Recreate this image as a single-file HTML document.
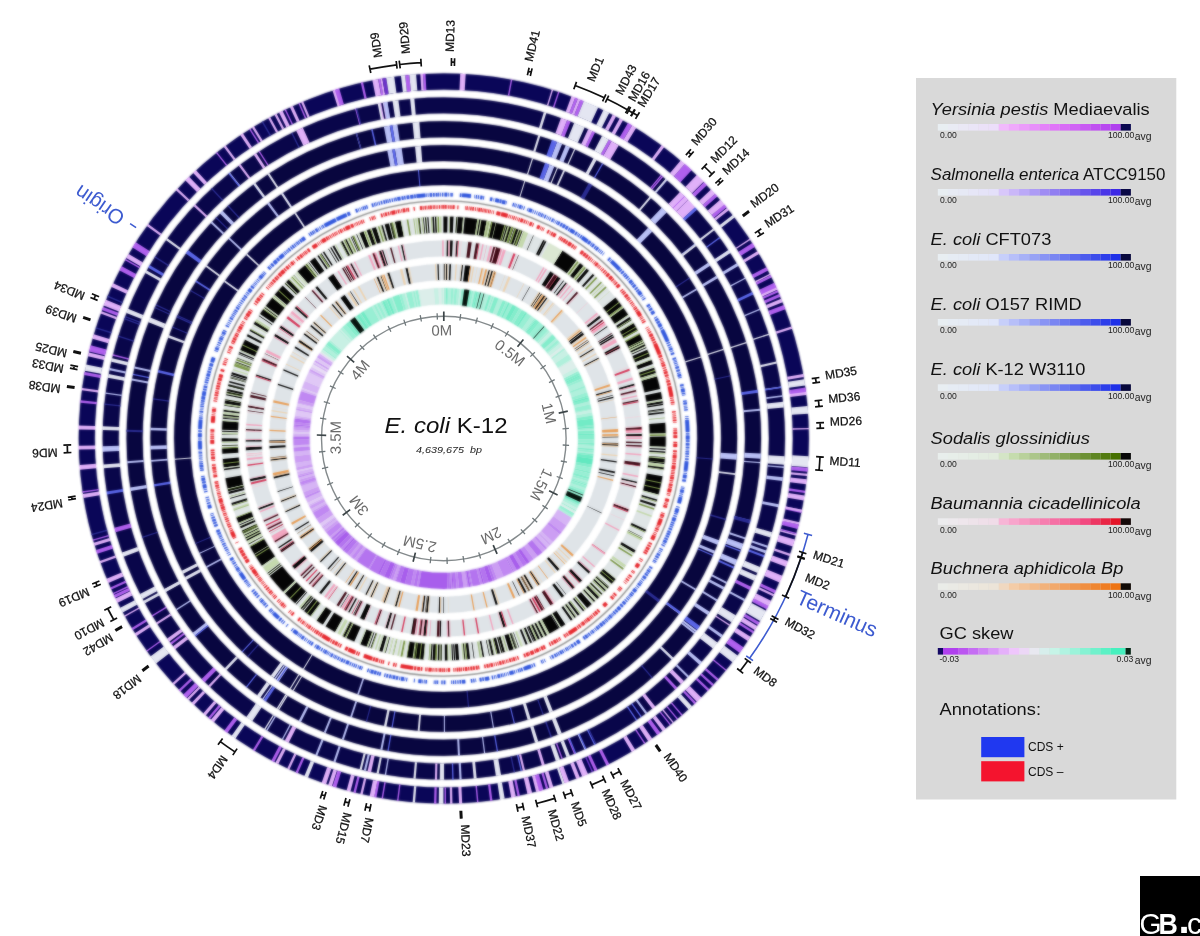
<!DOCTYPE html>
<html><head><meta charset="utf-8"><title>E. coli K-12</title>
<style>html,body{margin:0;padding:0;background:#fff}body{width:1200px;height:936px;overflow:hidden;position:relative}</style></head>
<body>
<svg width="1200" height="936" viewBox="0 0 1200 936" style="position:absolute;left:0;top:0">
<defs><filter id="sb" x="-5%" y="-5%" width="110%" height="110%" color-interpolation-filters="sRGB"><feGaussianBlur stdDeviation="0.8"/></filter></defs>
<g filter="url(#sb)"><g id="rings" transform="translate(443.8 438.5) rotate(-90)" fill="none">
<circle pathLength="4639.68" r="357.05" stroke="#0a0658" stroke-width="15.9"/>
<circle pathLength="4639.68" r="357.05" stroke="#b060ee" stroke-width="16.3" stroke-dasharray="0 136.4 3 95.8 3 33.6 5.6 5.6 7.4 99.9 9.5 132.3 18.5 34.9 8.4 24 7.2 21.5 7.2 89.1 9.6 46.7 8 10.5 4.8 12 12.8 3.5 4.8 3.7 6.4 17.6 9.6 163.5 12.8 150.2 8 38.7 4.8 34.3 6.4 24.1 9.6 7.9 3 93 4.8 22.6 6.4 28.3 8 30 6.4 14.6 4.8 34.4 13.7 43 3 21.5 4.8 9.8 4.8 8.6 4.8 33.2 4.8 31.9 3 9.2 3 15.4 3 24 8 29.1 3 81.6 6.4 19.9 6.4 100.2 4.8 5.4 9.6 39.3 4.8 51.4 4.8 23.9 3 62.6 3 16.8 4.8 72.2 3 28.5 3 10.3 4.8 38.4 4.8 35.8 8 75.1 4.8 48 6.4 38.5 4.8 61.7 8 36.9 4.8 59 9.6 8.7 4.8 99.9 3 49.2 4.8 69.7 6.4 1.3 3 7.7 4.8 72.8 8 19.7 3 96.4 3 180 4.8 51.5 6.4 42.7 12.8 74.8 6.7 80.7 9.6 13.7 3 26.9 12.8 243.4 3 79.6 3 78.6 3 27.8 3 72.2 12.8 44.8 4.8 31.6 4.4 50.3 8.6 27.5 5.2 38.3"/>
<circle pathLength="4639.68" r="357.05" stroke="#e0b0f9" stroke-width="16.3" stroke-dasharray="0 33.5 11.1 177.1 3 39.2 7.9 5.6 5.6 71.9 7.7 8.5 7.7 21.1 9.7 62.2 6.4 42.9 11.1 32.8 19.4 21.7 11.9 15.7 13.1 8.5 5.8 71.4 3 26.9 6.4 45.5 3 27.9 4.8 19.6 8 51.9 4.8 94.3 6.4 30.1 6.4 66.7 3 90.3 4.8 6.3 10.3 22.8 10.5 18.6 4.8 21.6 4.8 20.1 3 7.7 14.7 15.6 4.8 10.7 12.5 19.2 14.8 26.2 4.8 10 11.6 46.3 9.6 16.3 10.1 147.9 12.8 62 3 18 8 25.8 9.6 31.6 8 99.4 12.8 5 8 15.3 9.6 24 8 21.8 6.4 8.3 9.6 24.2 9.6 99.6 6.4 13.4 4.8 154.5 9.6 14.6 4.8 20.5 8 31 8 4.4 9.6 70.4 4.8 20 6.4 149 8 13.7 6.4 25.5 6.4 7.9 4.8 38 4.8 120 6.4 38.7 3 29.1 9.6 34.4 9.6 33.2 4.8 32.8 6.4 92.7 8 49.7 9.6 31 8 33.3 8 71.6 4.8 64.9 8 28.3 9.6 44.1 5.1 12.2 12.8 28.2 8 57.5 9.6 67.4 4.8 88.5 4.8 22.8 10.4 11.4 8 73.1 4.8 36.4 6.4 21.6 4.8 33 4.8 9.8 4.8 5.2 8 16.6 6.4 18.3 4.8 63 4.8 78.4 12.1 4.4 4.1 77.2 5.2 43.4"/>
<circle pathLength="4639.68" r="357.05" stroke="#6a30c8" stroke-width="16.3" stroke-dasharray="0 2008.6 3 2503.3 7.5 118.2"/>
<circle pathLength="4639.68" r="357.05" stroke="#e4e6f2" stroke-width="16.3" stroke-dasharray="0 290.4 32.1 11.6 13.1 326.5 6.4 359.1 12.8 42.1 15.5 86.3 22.3 304.2 24 83.2 17.4 120.8 9.6 293.4 4.8 120.4 9.6 115 9.6 48 4.8 218.1 8 158.9 9.6 211.9 18.3 105.1 10.9 493.9 12.8 892 16.4 13.7 8.6 8.6 13.7 57.2"/>
<circle pathLength="4639.68" r="357.05" stroke="#2a2c92" stroke-width="16.3" stroke-dasharray="0 3281.5 3 421.3 3 65.1 3 477.2 3 383.6"/>
<circle pathLength="4639.68" r="333.15" stroke="#09064a" stroke-width="15.9"/>
<circle pathLength="4639.68" r="333.15" stroke="#b060ee" stroke-width="16.3" stroke-dasharray="0 272.9 8.2 51.4 6.6 33.2 6.7 129.3 3 1 3 56.6 16.6 903.6 7.5 264.2 6.4 257.5 3 26 3 833 9.6 99.1 4.8 68.5 3 196.8 9.6 376.9 3 552 3 226.4 3 192.1"/>
<circle pathLength="4639.68" r="333.15" stroke="#e0b0f9" stroke-width="16.3" stroke-dasharray="0 258.9 14.1 49.7 10 46.5 18.2 166.8 12.8 1.8 9.2 0.8 22.2 974.8 3 154.9 9.2 73.6 8 263.6 6.4 37.8 4.8 187.5 4.8 139.1 8 181.5 9.6 199.5 4.8 106.4 8 13.1 8 37.2 4.8 973.3 4.9 126.1 4.8 35.4 6.4 98.9 16 171.9 6.2 3.5 9.6 124.5"/>
<circle pathLength="4639.68" r="333.15" stroke="#b9c0f6" stroke-width="16.3" stroke-dasharray="0 522.2 4.8 200.9 8 26 6.5 29 3 71.4 3 171.7 3 16.2 3.7 151.4 3 20.4 8 51.1 6.4 86.3 4.8 6.1 6.4 108.4 4.8 86.8 6.5 67 8 33.2 4.8 115.6 4.8 150 3 274.7 4.8 159.7 3 41.5 4.8 63.8 4.8 36.7 4.8 77.2 3 35.9 3 385.2 3 338.9 11.8 114.1 3 48.7 4.8 503.1 3 368.5 9.1 123.6"/>
<circle pathLength="4639.68" r="333.15" stroke="#e4e6f2" stroke-width="16.3" stroke-dasharray="0 219.7 5.8 63.9 24.9 41.5 16.6 150 3 145.4 4.8 53.1 6.4 194.1 3 59.3 4.8 83.8 12.9 105.4 18.4 148.5 12.1 67.5 14.2 5.9 12.5 84.8 17.7 53.1 16.1 391.2 8 14.7 9.6 122.6 11.2 42.1 6.4 64.2 9.6 52.1 4.8 75.9 4.8 33 4.8 221.8 3 30.5 16 331.9 6.4 4.5 12.1 88.2 9.6 186.9 8 75.2 8 105.7 8 27.5 8 102.4 9.7 86 6.4 77.8 4.8 553 4.8 27.7 12.8 25.7 9.2 64.9"/>
<circle pathLength="4639.68" r="333.15" stroke="#5a66e8" stroke-width="16.3" stroke-dasharray="0 610.8 6.5 76.4 3 135.3 6.4 208.5 3 367.7 4.8 440.3 3 9.4 3 101.8 3 18.4 3 21.2 3 120.4 3 146.4 3 1056.7 6.4 502.4 6.4 262 3 502.4"/>
<circle pathLength="4639.68" r="333.15" stroke="#2a2c92" stroke-width="16.3" stroke-dasharray="0 1977 3 184.2 3 1385.6 3 147.5 3 37.1 3 1.7 3 141.5 3 189.9 3.1 208.7 3 146.9 3 190.5"/>
<circle pathLength="4639.68" r="309.25" stroke="#080640" stroke-width="15.9"/>
<circle pathLength="4639.68" r="309.25" stroke="#b9c0f6" stroke-width="16.3" stroke-dasharray="0 269.4 12.6 8.9 11 256.9 16 97.4 3 51.5 8.3 27.3 6.4 321.6 4.8 100.3 11.9 7.2 3 176.6 4.8 10.8 13.9 25.9 13.4 43.2 4.8 8.7 6.4 26.6 4.8 29.2 8.9 43.6 4.8 0.8 4.8 74.6 4.8 493.9 3 56 4.8 177.3 4.8 87.9 4.8 39.9 4.8 58.5 5.7 96.3 3 215.8 8 64.3 3 47.2 6.4 242.6 8 56.8 4.8 189 4.8 24.1 4.8 381.3 4.8 26.1 9 93.9 4.8 263 3 64.2 13.8 6 11.9 109.6"/>
<circle pathLength="4639.68" r="309.25" stroke="#5a66e8" stroke-width="16.3" stroke-dasharray="0 256.8 12.6 116.1 3 657.1 7 299.4 6.4 68.2 3 37.3 4.8 154.8 11.1 555.2 3 253.1 3 307.2 6.4 48.5 3 165.4 3 643.2 3 307.5 9.6 520.1 3.8 40.7 6 121.5"/>
<circle pathLength="4639.68" r="309.25" stroke="#e4e6f2" stroke-width="16.3" stroke-dasharray="0 223.1 5.2 84.3 3 46.9 8 150.2 4.8 148.7 4.8 252.6 3 788.4 4.8 310.9 9.8 48.1 8 618 3 0.8 3 45.3 9.6 91.6 6.4 224.9 8 641.7 11.6 397 4.8 34.8 4.8 356.8 15.9 58"/>
<circle pathLength="4639.68" r="309.25" stroke="#2a2c92" stroke-width="16.3" stroke-dasharray="0 1352.4 8 428.7 3 270.6 3.8 1177.7 3 248.3 4.8 292.2 3 3.9 3 244.4 3 36.2 3.1 343.1 3 205.3"/>
<circle pathLength="4639.68" r="285.35" stroke="#08063e" stroke-width="15.9"/>
<circle pathLength="4639.68" r="285.35" stroke="#b9c0f6" stroke-width="16.3" stroke-dasharray="0 271.7 13.5 283.4 14.4 180.5 4.8 430.1 15.1 208.3 11.7 16.5 7.7 99.2 4.8 66.9 4.8 559.2 3 121.1 3 235.3 4.8 200.6 8 1.9 3.8 646.8 4.8 26.1 9.6 39.5 6.4 524.2 4.8 126.7 6.1 39.6 3 284.6 12.9 6.5 17.2 108"/>
<circle pathLength="4639.68" r="285.35" stroke="#5a66e8" stroke-width="16.3" stroke-dasharray="0 260.2 11.5 1189.5 3 162.1 6.4 506.1 3 307.5 3 309.8 3 112.4 3 477.4 6.4 283.3 6.4 241 4.8 609.2 6.5 125.2"/>
<circle pathLength="4639.68" r="285.35" stroke="#e4e6f2" stroke-width="16.3" stroke-dasharray="0 225.3 3 63.8 3 14.4 4.8 616.2 3 314.1 4.8 786.3 9.6 49.5 8 275 4.8 79.5 6.4 244.7 3 5.9 3 47.6 9.6 323.6 8 9.4 8 604.7 6.4 195.6 4.8 260.2 4.8 356.3 15.1 58.5"/>
<circle pathLength="4639.68" r="285.35" stroke="#2a2c92" stroke-width="16.3" stroke-dasharray="0 381.1 10.7 339.6 3 264.6 3 362.3 4.4 694.4 3 449.4 3 340.6 3 716.4 3 184.4 3 25 3 0.9 3 68.2 3 768.7"/>
<circle pathLength="4639.68" r="261.6" stroke="#08063e" stroke-width="16"/>
<circle pathLength="4639.68" r="261.6" stroke="#5a66e8" stroke-width="16.4" stroke-dasharray="0 4568.5 3 69.2"/>
<circle pathLength="4639.68" r="261.6" stroke="#e4e6f2" stroke-width="16.4" stroke-dasharray="0 223.8 3 704.6 3 1788.1 3 695.8 3 512.8 4.8 90.4 4.8 169.7 4.8 429"/>
<circle pathLength="4639.68" r="261.6" stroke="#2a2c92" stroke-width="16.4" stroke-dasharray="0 1214.7 3 415.7 8.4 608.7 3 929.1 3 1455"/>
<circle pathLength="4639.68" r="261.6" stroke="#b9c0f6" stroke-width="16.4" stroke-dasharray="0 2556.4 4.8 549.2 4.8 38.2 3 1484.3"/>
<circle pathLength="4639.68" r="243.9" stroke="#2f55dd" stroke-width="3.6" stroke-dasharray="0 2.3 8.2 3 2 3.3 1.8 2 4.6 21.8 4.3 2.2 26.8 10.7 1.6 2.9 3.4 3 3.1 4.2 6.3 2.6 2.4 18.7 6.4 4.1 1.5 4 11.7 2 5.4 2 10.1 2.1 1.8 19.2 3.6 2.3 1.9 2.1 2.1 4.1 2.4 2.3 6.5 2 2.1 3.7 2.4 9.3 2.2 2.7 9.8 3.2 2 4 2.2 3.6 2.1 3.9 2.9 1.9 2.2 2.4 3.9 2.2 1.7 3.1 4 4 1.5 2.9 2 3.2 2.7 4.2 4.6 2.1 1.5 3.5 1.6 3 2.5 2 5 3.6 5.6 2.6 7.5 2.8 6.7 3.3 3.8 2 14.5 3.5 5 2.9 1.7 1.9 3.2 3.5 4 2.4 20.4 2.3 7.6 2.9 2.5 2.3 5.8 3.9 3.8 2.1 6.2 3.5 2.3 2.9 2.1 3.3 2.5 4.2 1.7 20.2 4.7 2.5 1.6 2.9 35.2 2.1 4.1 3.3 5.8 3.4 3.2 1.8 4.8 2.5 4.6 3.3 2.8 4 8.5 2.1 4.1 2.7 7 4.1 4.2 3.5 4.2 2.3 11.7 3.1 2.5 3.9 1.7 3.1 3.2 19.3 5.7 2.6 1.9 3 6.3 4.1 9.2 11.1 2.4 3.3 6.3 2.5 6.4 2.3 10.5 3.2 3.5 3.3 39.1 2.8 3.7 3.5 3.5 4.1 2.3 2.1 5.9 2.9 2.1 4 5.4 10.7 4.5 2.7 1.8 2.1 2.2 3.1 2.7 3.1 2.1 3.3 6.5 3.9 5 4 2.5 2.3 7.2 2.4 2.3 19.7 5.6 2.8 1.5 3.4 10.5 3 3.3 2.3 1.8 15.7 3.7 2.2 6.3 4 1.7 2.9 2.5 3 3.9 17.8 2 3.6 2.1 3 37 3.5 4.1 3.2 12 2.4 5 3.8 7.4 3.5 5.3 3.5 2.6 1.8 4.1 2.4 4.4 3.4 3.5 4.2 4.6 4.2 29.2 2.4 1.6 2.7 2.3 3.1 10.4 4.2 5.8 16.4 1.6 2.2 2 3.3 9.1 3.1 2.7 3.4 2.4 2.5 18.9 10.2 2.8 3.6 13.2 2 3 4.1 3.4 3.5 11.5 3.2 4 2.3 3.5 2.9 3.1 3.2 5.4 4.2 4.9 2.1 5.5 2.7 4.5 3.2 5.1 2.4 7.9 1.9 2.3 3.3 3.5 9.2 3.6 2.7 2.1 3.6 1.7 3.7 5.3 2.8 5.8 3.4 2.5 3.6 3 2 1.7 15.9 4.5 3.7 2.1 2 4.9 2.5 2.7 2.7 4.7 4 7.9 3.7 2.5 4 2.2 2.7 2.8 2.3 5.6 3.8 2 3.9 1.6 3.1 10.3 3.7 3.6 2 5 2 1.9 3.4 2.1 3.1 2.8 4.1 3.3 3.5 7.9 3.8 6.5 3.8 9.7 3.1 5.7 2.8 5 2.7 2.1 2.5 1.7 2.1 5.4 1.9 3.8 1.9 2 2.4 3.8 2.2 2 2.5 5.9 2.4 7.9 3.1 3.2 1.9 5.7 3.1 2.3 3.4 1.5 2.7 4.7 2.2 2.5 3.9 4.1 2.4 1.9 1.8 6.4 2 4.8 14.7 9.6 3.9 5.5 4 6.1 3.1 1.9 2.5 1.7 2.9 2.7 2.1 3.1 3.8 1.5 3.5 3.7 1.8 5.7 3.3 2.7 2.5 2.8 2.4 4.9 4.1 4.8 3.8 1.9 17.5 2 3.8 1.7 2.2 2.9 20.9 3.4 3.6 2.8 2.8 23.2 4.2 4.3 1.8 2.6 2.1 3.4 3.8 1.9 4 2.6 2.1 12.7 3.5 2.1 3.3 1.7 3.2 2.5 2.7 1.8 2.1 3.5 3.1 7.7 3.8 1.8 2.5 2.2 3.8 3.6 8.4 12.8 3.4 4.4 2.7 5.7 10.8 1.9 3.2 3.4 3.2 4.2 17.4 9.8 2.9 4 3.6 3.2 3.8 2.9 3.2 3.4 2.8 2.5 18.2 4.9 3.6 3.8 9.7 3.3 1.9 3.4 2.5 2.2 20.8 4.3 2.8 2.2 3.2 1.8 2.1 9.3 11.4 2.5 20.5 2.8 3.2 1.6 2.5 8.6 2.9 2.4 4 6.2 2.9 7 2.3 2.1 1.9 4.9 4 4.7 3.5 3 11.1 4.7 2.2 4.3 2.7 7.1 2.3 8.3 2.5 1.7 2.9 3.5 16.4 2.3 2 5.2 2.5 2 4.2 3.1 2.7 3.3 3.1 2.7 3.7 3.3 3.4 9.4 3.7 3.9 2.9 5.5 2.4 2.2 3 3.9 3.2 2 1.8 3 2.4 1.7 3.2 5.6 2.2 1.6 3.3 2.3 2 2 2.2 6.1 1.9 2.7 4.1 3.2 4.2 3.1 1.9 7.2 2.7 2.9 8.5 5.2 2.4 3.6 2.9 2.7 4.2 1.6 3.4 2.6 3.9 7.2 2.7 2.7 2.3 2 2.2 2.1 2.5 14.5 3.9 2.8 17.7 2.3 10.5 2.8 3.5 2.7 4 5.3 4 21 2 2.5 3 2.8 1.9 3.9 12.4 3.5 3.5 4.9 2.2 2.4 2.8 6.7 2.5 2.1 8.3 3.7 4.1 4.4 2.3 4.4 3.9 4.1 14 1.7 2.6 2.4 2.8 2 2.4 2.6 2.2 4.6 3.5 23 2 1.6 3.2 2.5 1.9 7.3 2.4 2 3.3 2.7 4.1 4.1 2.8 2.3 3.9 7.7 9.9 2.5 4.1 2.1 3.4 1.5 2.7 3.3 3.1 3.6 4.1 2.6 2.6 4.6 4.1 2 3 2.7 3.6 2.2 2.6 3.4 2 1.8 2.1 5.3 2.2 6.8 11.6 5.6 3.5 4.8 2.6 6.3 3.2 4.7 3.8 1.8 3.4 2 16.2 10.7 3.5 4.1 4 1.6 2.1 2.4 4.2 2.5 15.6 2.7 3.7 2.4 3.3 11.8 3.5 5.7 2.2 8.5 3 2.5 15.9 4.1 2.3 2.7 1.9 7.3 2 3.2 2.3 3.2 3.7 1.7 3.4 2.3 3.9 3 3.5 1.6 2.1 2.7 2.5 1.5 4.1 26.8 3.7 2.8 3.8 12.6 4.1 4.7 4 28.2 2.7 4.3 2.7 2.6 4 1.8 3.6 5 3.4 1.8 2.6 1.5 2.8 3.5 2.3 2.5 2.1 3 2.3 4.7 2.5 9.2 2.2 13.3 3.3 4.2 3.3 6.5 3 1.8 3.5 4.3 2.7 3.9 3 4.1 3.2 8.5 2.9 5 3.6 2.8 2.1 3.3 3.8 8.7 3.7 14.7 20.2 2.3 2.9 6.7 2.5 1.7 3.7 2.2 3.9 3.6 3.7 2.7 1.9 6.7 2.1 2.8 3.3 1.7 2.3 6.9 2.3 3 12.8 4.1 3.2 2 3.5 1.9 4.1 2.7 4.2 5 2.5 1.9 2.8 2.9 3 2.6 2.4 2.4 2.5 4.4 4 5 2.9 2.9 2.9 2.4 3.4 2.9 3.9 2.9 3.8 3.8 2 1.7 2.7 4.4 4 1.6 2.9 3.1 3.4 10.7 4.2 6.1 3.5 1.7 2.8 2.1 2.3 1.9 3.6 2 3.3 2.3 3.6 1.8 1.8 9 1.9 3.5 2.1 2.4 2.1 1.9 15.2 5.4 2.8 2.1 3.1 6.4 3.8 10.6 2.8 6.7 2.8 16.3 3.6 1.9 1.9 2.4 3.3 1.6 2 1.8 2.6 4.3 4.1 3.3 2.7 5 2.7 3.2 2.8 1.6 1.9 3.6 2.3 2.7 3 5.1 1.8 10.3 16.3 2.7 2.7 3.9 2.6 3.4 1.9 2.3 3.7 6.6 2.5 1.7 3.8 2.5 3.7 1.7 1.9 3.6 3.3 38.2 3.2 32.6 3.4 8 18.9 5.1 2.9 1.8 3.6 1.8 3.4 1.8 2.5 3.6 2.3 3.5 2.1 3.2 14 4.4 3 2.8 2.1 2 2.3 2 3.2 2.8 3.8 3.8 4.2 4.6 2.4 3.7 2 2.7 2.8 3.6 4 3.2 3.6 2.5 1.9 3.7 2.6 9.3 3.7 5.5 2.3 3.9 3.6 7.5 3.5 9.3 2.5 4.9 2.4 27 2.5 1.9 2.5 2.3 3.9 6.6 3.3 4.9 3.4 5.4 1.9 2.7 2.4 2.7 4.1 3.7 2.4 0.5 1"/>
<circle pathLength="4639.68" r="237.6" stroke="#9a9a9a" stroke-width="1.3"/>
<circle pathLength="4639.68" r="231.55" stroke="#e6262c" stroke-width="3.7" stroke-dasharray="0 2.4 4.4 1.8 2.3 3.5 3.6 2.1 2 1.9 1.7 2.6 6.3 8.9 3.3 21.8 1.8 2.1 4 3.5 2 2.8 3.9 2.7 4.9 4.1 2.6 3.5 1.8 2.7 5.8 1.9 3 2.3 2.8 2 2 1.9 2.6 1.9 2.1 2.9 3.2 2.2 2.7 3.6 1.5 3.6 2.2 8.6 12.2 3 21 3.8 2.2 2.9 2.3 3.9 2.4 2.5 3.4 3.5 2.4 3.4 1.9 2.8 3 3.1 8.1 3.6 3.8 3.7 2.6 3.6 1.5 4 7.4 3.1 2.7 12.9 8.6 3.1 1.8 3.5 2.2 2.6 1.9 12.4 5.2 4 1.6 2.9 4.4 2.4 9 13 2.1 2.3 3.3 2.2 3.9 2.4 6.5 2.3 5.2 3.4 10.8 3.4 4.9 3 2.5 2.3 2.3 19.3 8.7 2.7 7.4 2.1 6.3 3.7 4 2.8 2.8 3.7 2.1 4.1 1.6 3.9 2.7 2.5 6.7 2.3 1.6 1.8 2 2.5 2 3.9 1.8 3.1 3.4 3.7 4.1 3.3 2.9 3.5 8.2 3.9 9.6 2.8 3.9 3.8 1.7 2 1.5 2.1 4 4.1 9.3 11.2 3.2 3.6 3.5 2.4 3.9 4.2 8.5 2.5 3.9 1.8 3.2 3.8 2.6 3.9 3.2 3.3 2.7 2.7 1.9 4.1 2.3 2 4.1 3.1 3.7 2.5 17.1 3 2 2.3 2.7 4.1 2.6 2.8 4.2 17.4 2.2 4.2 2 2.5 2.2 3.3 3.8 4.1 8.7 2.9 4.8 2.4 4.9 3.4 4.8 2.5 36.9 2.7 7.6 3.8 2.5 2.8 1.6 2.5 1.8 2.7 3.9 2.2 6.6 4 2.7 4 3.6 2.4 7.7 3.3 6.2 3.3 1.6 2.7 1.7 3.1 6.3 3.1 6.4 4 34.3 3.3 2.1 3.7 3.4 3.4 4.2 2.5 1.8 21.7 3.9 4.1 2 3.9 2.2 3.4 3.7 3.6 5.1 3.6 2 16.7 1.8 2.8 3.7 3.1 7.6 3.9 8.7 12.5 4.3 2.3 9.8 10.5 5.9 4.2 3 2.6 9.8 3.4 2.1 2 3.2 4 4.4 3.7 12.4 3.4 2 2.9 2.1 2.2 2.5 3.4 3 2.3 7.9 3.4 3.5 2.6 2 3.6 7.2 2 3.9 3.1 11.4 4 2.3 2.4 2.3 10.3 9.2 3.4 1.6 2.1 3 2.2 7.7 18.3 2.4 2.9 6.3 2 2.4 4 21.4 2.2 2.3 2.4 1.8 2.2 5 2.8 2.9 4 1.8 3.5 2.3 2.9 14.4 11.2 4.5 4 4.6 3.5 7.2 2.9 5 2.5 4.9 20.2 2.8 3.5 1.9 9.8 13.2 14.5 2.5 2.1 2.3 9.9 4.8 3.8 2.2 4.2 4.8 3.7 1.7 4.1 1.7 18.5 3.2 2.2 2.9 2.2 1.8 14.6 4.9 3.5 2 2.8 6.6 21.8 12.4 20.5 5.4 3.4 6.5 3.1 4.1 4.1 2.5 2.4 3.4 2 2 2.2 7 2.3 2.9 2.2 2.6 3 8.2 1.9 1.8 3.7 4.8 2.9 3.1 3.5 29.9 3.9 3.5 2.3 1.7 2.1 4 14.3 2.8 1.9 1.8 3.3 3.6 2.3 8.2 3 5.4 3.6 3.5 16 5.2 2.1 6.1 3.4 2.2 3 9.1 1.8 3.3 3.8 10.7 3 2.5 1.8 7.2 3.2 4.5 18.6 3.8 3.8 2 2.7 5.7 2 2.5 2.8 5.6 3.6 1.8 2.1 2.8 3.5 1.9 2.3 5.1 3.2 6.5 3.2 2.3 3.4 2.5 4 2 3.8 7.3 2.5 2.3 2.2 6 3.6 4 16.1 3.3 2.1 5.5 3.6 5.8 2.5 5.9 3.5 3.7 2.9 7.3 3.3 3.1 3.4 2.6 2.1 5.5 2.2 4 2 2.1 3.5 2.9 11.1 7.1 4.1 1.8 2.7 3 2.3 3.9 3.1 6.6 3.1 1.9 2.8 2.2 2.3 2.4 3.9 2.9 3.2 9.6 3.6 2.9 1.9 2.1 9.2 4.5 3.4 8.4 3.7 6.2 3.6 39.7 14 3.4 3 4.3 12.8 3.1 14.4 3.4 2.7 3.4 3.3 2.8 4.2 7.7 2.6 6 3.1 27.7 15.4 3.9 2.6 3.8 4.2 23.6 3.2 7.6 15.1 3.9 3.3 3.3 3.1 7.8 3 6.2 3.5 3 3.3 27.8 2.7 5 2.5 3.6 2.5 6.2 2.6 3.6 3.9 2.6 3.7 3 4.2 5 2 1.8 2.9 3.2 3.6 1.6 3.3 1.7 1.9 4.1 3.7 2.7 3.8 5.8 21.6 5.1 3.4 1.9 4 2.2 18 1.6 2.1 3.4 2.6 5.5 2.4 2.3 4 2.1 3.9 2.6 9.8 3.3 2.9 2.8 3 2 4.2 2.5 2.1 5.8 3.3 2.6 3 4.9 3.8 4 4.1 2.1 3.8 1.9 2.8 2 4.1 2.8 2.1 2.5 2.1 2.7 3.8 3 3 5.2 1.8 15.9 3 5.5 2.5 1.7 3 1.5 11.3 10.2 3 7.4 3.4 8.7 2.4 8.4 2.7 5.7 19.3 1.9 14.5 2 2.2 18.5 1.9 3.5 3.7 2.3 4.2 4.5 2.9 4.2 2.6 1.6 3.5 3.6 2.6 4.8 2 2.7 4 3.1 2.1 4 3.6 2.3 3.1 3.1 1.9 7.6 2.3 4.5 2.7 2.3 1.9 13.2 4 3.2 3.1 1.7 2.4 3.7 2.5 1.8 4.2 2.6 4 3.4 1.9 6 3.5 1.9 1.8 4 13.8 6.8 2.3 1.9 4 4 2.3 3 2.3 6.5 3.8 4.3 11.4 2.1 3.7 7.9 4 4.4 2.5 3 3.5 4.3 19.2 12.2 4 3.6 2.4 3.7 3.1 2.1 2.6 2.2 3.3 7.2 21.3 20.6 3.4 2.1 4 1.8 2.7 8.9 2.6 1.7 20.1 2.7 3.9 2.9 1.9 2.1 4 5.1 2.7 4.9 2.7 2 4.1 5.2 2.7 5.8 3.1 4.5 2 2.1 3.1 8.7 2.3 9.7 10.2 6.3 15.4 4.1 3.4 3.2 3.3 1.8 2.8 2.5 19.5 3 3.8 1.6 2.4 1.8 3.8 5.9 10 2.2 2.7 5.4 2.4 6.1 2.1 2.2 2.8 5.1 2.2 3.3 4.1 1.7 2.3 3.9 2.8 9.7 2.7 4.4 3.8 1.8 2.6 2.3 9.5 3.3 2.6 2 3 9.2 2 7.1 3.1 2.7 21.4 2.6 4 5 3 8.8 3.5 2.5 2 4.8 3.8 2.8 20.8 2.5 4.1 2 3.5 2.3 3.2 2 2 3.9 3.5 6.5 4 6.2 2.5 3.6 3.9 8.2 1.9 12.2 2.7 4.3 3.9 7.1 3.3 2.9 4.2 1.5 2.1 7 2.8 2.1 8.8 2.3 4.1 6.2 3.5 6.5 2.7 2.2 3 2.3 2.5 3.6 1.8 2.1 3.7 6.3 12.3 16.3 4 2.1 3.3 1.7 4 1.8 2.3 13.7 2.4 4.8 2.2 2.7 3.7 2.9 2.9 1.8 3 3.1 3.2 2.1 2.2 2 1.9 1.7 3.9 2.8 3.2 4.9 2 2.1 3.8 3.7 2.9 15 3.6 8.2 3.7 1.6 2.6 1.6 2.8 2.7 3.4 2.2 2.8 1.9 2.2 3.3 3 2.6 19.7 2.4 4.2 3.4 2 2.1 2.1 2.3 19.2 4.7 3.5 2.1 2.6 6.1 3.8 3.9 3.3 2.1 2 12.2 2.5 2.5 3.6 3.8 2.2 1.8 3.8 2.1 2.7 7.5 3.1 2.4 2.1 4.7 15 3.3 17.2 6.7 2.2 2.5 3.4 3.9 2.4 2.1 2.9 3.9 2.1 5.3 3.4 2.6 2 2.6 2.3 2.1 2.1 1.7 3.9 4.1 3.2 1.6 2.3 4.8 1"/>
<circle pathLength="4639.68" r="213.95" stroke="#dfe5e6" stroke-width="15.9"/>
<circle pathLength="4639.68" r="213.95" stroke="#050505" stroke-width="15.9" stroke-dasharray="0 0 12.6 8.6 11.5 14.3 17.1 5.7 42.4 5.9 25.8 15.3 68.5 3.6 5.5 2.5 14.2 1.5 12.8 38.5 1.9 34.7 5.5 0.7 5.5 61.3 57.3 14.4 14.3 14.3 10.3 16.6 7.2 102.4 34.6 8.7 27.3 9.2 11.9 12.6 27.3 11.6 28.6 2.6 15.1 4.5 2.9 6 24.7 12.9 13.8 12.7 19 11.8 42.9 10.5 23.5 7.2 7.2 1.7 4.1 11.9 3.5 7.3 5.4 31.8 34.5 11.5 34.3 6.8 3.6 5 5.5 13.8 22.9 8.1 9.2 23.2 62.6 16.8 5.4 11.8 7.2 82.9 7.2 70.4 9 106.9 20.7 12.7 10.7 4.5 5.4 27.4 9 9.1 5.5 10.4 7.2 0.2 12.3 12.7 5.1 15.2 7.2 8 5.5 8 7.2 22 16.9 5 3 0.9 35.2 9.3 7.2 7 7.2 5.7 7.2 5.7 7.2 1.2 2.7 4.4 7.2 8.9 6.6 23.8 1.5 4.6 2.3 2.4 3.4 4.9 15.4 13.6 9 1.5 3.1 4.4 9 12.1 7.2 6.7 2.1 17 5.4 27.3 2.4 12.3 9 27.7 10.8 2.3 4 2.7 3.7 15 9 18.8 5.4 6.4 10.8 2.6 7.2 19.5 56.5 46.1 2.1 23.6 4.3 7.5 10.8 28.2 2.7 5.1 2.7 5.6 22.2 22.2 28.7 5.5 7.2 30.3 36.5 10.5 25 25.6 26.7 3.3 2.8 4.1 4.5 18.6 2.7 3.2 47.2 8.2 68.9 43 73.9 22.3 5.5 2.3 5.5 6 5.5 1.7 12 8.3 7.2 3.6 3.1 6.3 18.1 44.6 7.2 14.7 2.9 13.6 7.2 1.9 5.3 3.9 35.1 26.7 5.5 3.4 28.8 17.5 17.3 23.5 10.8 13 1.5 8 3.4 3.4 28.8 7.6 3.4 1.5 2 3 5.5 9 5.5 13.8 2.7 4.9 9.9 17.4 4 3.1 3 4.5 7.2 9.6 4.5 0.3 1.7 5.9 5.5 17.3 3.6 1.8 7.2 49.3 1.6 12.4 1.9 2.2 4.4 7.5 37.4 13 7.2 12.8 5.5 21.1 9 22.2 2.4 5.9 19 14.3 34.8 12.4 40.2 16.1 12 21.4 1.8 17.1 32.4 3.7 6.4 4 2 4.5 20.6 9.9 5.5 8.3 2.7 5.6 5 15.8 2.2 5.6 4.4 4.5 3.6 0 3 25.6 7.1 8.4 5.5 15.4 2.1 2.6 4.4 11 2.3 9.6 14.5 11 11.8 6.1 14.9 18.2 5.5 6.2 14.4 6.6 1.6 12.4 20 74.8 2.6 11.6 3.8 12.8 5.5 3.1 5.5 23.1 1.7 1"/>
<circle pathLength="4639.68" r="213.95" stroke="#7f9a4c" stroke-width="15.9" stroke-dasharray="0 143.7 5.5 1.1 5.5 3.8 4.2 40.3 4 10.5 3.4 6.1 7.8 4.6 5.5 13.7 5.5 6.1 4.1 201.4 5.5 25 5.5 45.3 5.5 16.8 5.5 16.5 5.5 62.8 3.6 13.3 4.1 77.9 3.6 7 5.5 8.9 5.5 66 3.6 57.8 3.6 214.1 5.5 112.6 2.3 41.8 3.6 16.3 3.6 40.4 3.2 21.8 5.5 78.5 2.4 21.9 4.2 60.1 5.5 47 5.5 47.9 3.6 128.7 4.2 328.7 3.2 98.3 4.1 59.2 2 25.4 2.4 8.9 5.5 18.6 3 27.7 3.6 11.3 2.2 2.3 3.6 20.8 2.4 13.7 6.7 98.5 3 90.1 3.7 7.8 2.5 136.9 3.6 72.4 3.6 177.8 3.6 34.4 3.4 47.3 2.3 1.3 3.4 49.7 2.5 38.8 2.6 29.7 1.7 108.9 3.6 47.7 3.7 275.2 9 1.3 2.9 7.5 5.5 48.4 3.6 55.5 2.6 27.6 3.4 46.1 3.5 76 3.6 46.8 3 8.1 5.5 57.1 4.5 54.7 4.5 75.6 2.1 11.7 3.9 11.8 4.8 11.8 5.5 35.2 5.5 16.3 3.5 23.8 5.5 3.3 2.5 35.4 5.5 46.3 5.5 31.5 3.4 9.6 3.6 49.2 5.5 17.2"/>
<circle pathLength="4639.68" r="213.95" stroke="#c5d9ae" stroke-width="15.9" stroke-dasharray="0 122.4 3.8 18.1 4.1 3.9 5.5 16.5 2 33.5 2.4 3.9 3.9 52 2.8 0 13 125.2 2.5 57.9 3.4 115.2 3.7 149 2.5 46.3 2.1 29.2 3.6 2.4 5.5 6.2 2.5 35.6 2.4 31.2 3 112.9 4.3 153.9 2.5 17.5 5.5 32.1 11.2 91.9 3.2 69.6 5.5 79.7 5.5 47.2 4.3 44.6 9 46.1 2.1 21.3 3 9.8 2.9 4.3 6.5 43.4 4 2 2.5 6.1 4.1 79.8 3.9 50.1 2.9 46.2 3.8 10.8 3.4 7.8 3.5 10.7 3.7 23.3 3.3 23.7 5.5 10.9 2.1 90.8 1.7 27 3.8 57.1 5.5 37.7 5.5 63.9 5.5 16 2.5 33 3.4 46.1 5.5 12 4.9 24.1 5.5 15.7 2.6 1.5 1.5 4.3 5.5 51 3 70.8 10.8 6.2 2.5 72.6 2.4 65.4 5.5 66.4 5.2 86.5 20.6 2.7 3.3 44.7 2.4 40.7 2.5 1.3 5.5 12.9 3.3 5.7 4.8 11.5 2.1 13.4 2.1 55.9 5.5 65.4 2.8 153.4 4.2 26.1 5.5 60.8 3.7 1.1 2.7 7 2.6 132.8 4.6 178.1 5.5 154 2 21.6 4.4 5.5 4.6 13 3.2 40.2 5.5 108.1 3.6 25.6 2.3 11.6 3.8 58.2 3.3 2.7 4.3 33.4 2.5 58 3.8 20.6 2.5 45.9 5.5 16.9 1.8 47.1 3.6 7.8 5.5 8.6"/>
<circle pathLength="4639.68" r="213.95" stroke="#dbe7d2" stroke-width="15.9" stroke-dasharray="0 364.7 51.2 4224.7"/>
<circle pathLength="4639.68" r="213.95" stroke="#a9c088" stroke-width="15.9" stroke-dasharray="0 18.5 2.4 43.5 2.5 45.6 5.3 136.1 3.2 227.8 2.3 14.9 4 185.3 4.2 27.9 2.6 13.8 2.6 10.6 3.5 62.8 2.5 2 2.7 63.4 2.7 46.2 4.3 3.4 3.5 139.5 2.6 50.2 4.1 77.1 4.4 12 2.1 478.2 4.4 16.4 6 82.5 4.1 12 3.3 104.3 3.5 13 2.1 24.9 3.4 79.5 3.3 20.5 4.4 41 2.3 44 4.7 288.1 2 12 4.1 72.5 3.3 210.6 2.9 335.4 4.1 5.2 4 44.6 3.1 43.1 3.4 300 2.7 10.5 3.6 36.9 4.4 33.6 2.9 122.5 1.5 23 2.1 166 2.1 37 3.3 2.8 4.6 539.5 3.4 55.6 4 40.2"/>
<circle pathLength="4639.68" r="213.95" stroke="#1c260a" stroke-width="15.9" stroke-dasharray="0 41.8 3.7 1018.9 1.8 434 1.5 230.1 5.5 336.2 2.4 47.3 2 122.4 3.8 75.4 4.2 498.2 1.9 3.9 1.6 152.4 3.3 3.2 3.3 113.4 2.8 190 4.3 145.2 2.9 150.3 3.3 22.3 4.3 18.4 3.1 24 2.2 1.8 1.9 49.8 2.4 202.8 3 102.6 3.8 404.7 3.1 0.6 2.2 90.9 3.7 18 4.2 59.8"/>
<circle pathLength="4639.68" r="213.95" stroke="#d4e2c4" stroke-width="15.9" stroke-dasharray="0 623.1 1.9 1424.8 4.2 57.1 3 340 3.8 44.6 4.2 609.6 2.8 162.5 3 95.5 2.6 490.9 3.1 220.5 4.7 243.8 3.8 74.1 3 140 1.9 72.2"/>
<circle pathLength="4639.68" r="190.15" stroke="#dfe4e8" stroke-width="15.7"/>
<circle pathLength="4639.68" r="190.15" stroke="#050505" stroke-width="15.7" stroke-dasharray="0 11.5 5.5 7 9.7 13.4 5.5 141.1 9.8 215.7 19.7 11.2 15.3 12.8 3.2 8.3 5.5 171.3 9 39.6 3.1 32.9 5.5 2.3 5.5 32.4 5.5 0.7 7.2 142.5 7.2 182.9 7.2 172.8 5.4 376.9 8.7 35.3 11.3 27.5 9 30.8 1.6 8.9 10.8 236.3 9 236.5 5.4 51.4 9.3 36.7 9 89.2 9 83.9 17.7 26 2.3 16 5.4 32 1.8 87 9 126.5 14.4 68.4 5.4 8.9 5.5 66.3 1.6 88.5 7.2 104.1 9 108.3 10.8 21.1 5.4 124.5 5.5 114.7 5.5 82 2.3 73.3 9 28.4 9 83.1 7.2 101.3 9 50.3 25 44 5.5 23 6.6 111.3 15.6 69.4 5.5 156.3"/>
<circle pathLength="4639.68" r="190.15" stroke="#d63a5c" stroke-width="15.7" stroke-dasharray="0 52.8 3.3 74.7 3.2 75.5 4 52.2 8.2 176.4 2.2 240.4 5.5 104.2 2.9 88.8 7.2 118.1 4.3 100.4 4 132.9 2.8 173.8 4.2 173.4 5.4 139.8 3.6 21.5 2.8 97.5 3.1 39.8 3.9 7.9 7.2 132.6 4.5 102.1 5.5 46.9 5.5 139.5 2.9 9.6 3.8 11 2.9 60.4 5.5 100.3 3.7 90.7 2.7 29.1 4.1 67 2.7 76.6 3 23.6 5.4 73.5 2.3 71.5 3.2 37.8 4.5 33.8 3.1 22.1 5.4 160 7.2 62.7 5.4 332 3.7 59 4.4 133.3 3.2 44.5 9 47.1 4.2 239.2 5.7 99.5 5.5 2.5 2.4 14.1 2.4 247.1"/>
<circle pathLength="4639.68" r="190.15" stroke="#f2a6c0" stroke-width="15.7" stroke-dasharray="0 17.3 3.9 0.2 2.2 21 2.1 97.4 6.1 10.6 2.1 11.4 8.1 3.6 3.4 25.2 7.4 2.9 10.3 153.6 5.5 4.4 5.5 30.9 3.4 0.6 2.5 24 2.5 27.4 5.5 7.1 5.5 10 3.9 124 7.2 25.7 9 5.3 9 56.9 2.6 4.3 13.4 25.5 2 115.8 9 22.9 4.4 18.3 2.8 11 5.5 126.7 9 12.4 4.1 2.2 5.5 29.3 3.5 23.1 5.5 76.4 5.5 208.4 5.5 97.3 5.5 55.5 5.5 18.2 3.5 41.6 2.5 48.5 3.8 83.6 3.7 50.6 3.3 16.8 2.8 91.5 5.5 71.6 5.4 168.1 3.7 28.9 3.5 30.8 3 28.1 3.7 16.4 5.5 230.1 3.7 35.5 4 14 7.2 60.1 2.9 4.2 9 119 4 24.4 3.2 120.5 2.4 5.1 22.5 9.2 2.4 14.7 3.5 3.2 4.1 27.9 3.2 29.2 5.5 125.7 2.5 68.2 7.2 7.9 1.5 4.3 3.1 50.9 3.8 52.1 5.5 277.6 10.8 53.2 4.1 35.2 2.2 9.6 3.2 56.1 9 109.9 2.5 112.6 5.5 45.7 3.3 6.1 2.1 7.6 5.5 52.8 8.3 18.7 5.5 19.2 4.2 60.2 5.5 13.3 3.9 144.7 6.4 1"/>
<circle pathLength="4639.68" r="190.15" stroke="#400a16" stroke-width="15.7" stroke-dasharray="0 91.8 12.8 16.2 9.7 56.6 27.3 70.5 1.8 152.1 11.2 93.5 7.2 134.2 5.5 54.7 3.2 228.7 5.5 31.3 5.5 97.5 7.2 48.7 5.4 7.4 5.5 59.9 10.8 77.4 5.4 85.7 7.2 451.1 11.6 24.9 3 3.5 7 14.6 5.5 339.4 5.5 33.6 8.9 59.9 5.5 18.1 10.8 75.8 5.5 53.5 5.4 81.2 5.5 34 5.5 26.4 9 109.7 5.4 10.8 5.4 26.8 5.4 5.9 5.5 110.3 5.5 39.3 5.4 49.2 5.4 26.6 5.4 345.9 5.4 67.6 2.7 11.4 5.5 32.6 9 6.4 3.3 127.2 7.2 277.6 2 32.2 5.4 135.7 5.5 8.7 5.5 107.7 5.5 62.3 5.5 198.5"/>
<circle pathLength="4639.68" r="190.15" stroke="#f3c6d4" stroke-width="15.7" stroke-dasharray="0 193.9 3.7 77.4 2.6 273.5 2.9 46.2 2 88.6 3.7 418.3 3.7 211.9 3.1 5.2 2.2 6 3.2 78.3 3.7 42.6 1.8 402.4 2.4 70.7 2.9 141.7 4.4 194.8 4 99.5 4.5 127.3 2.6 9.6 3.4 27.3 3 46.1 3.5 239.7 3.6 347.2 4 228.1 4.3 54.5 4 93.3 2.3 183.4 2.4 11.5 3.6 84.1 2.1 11.8 3 73.6 3.9 14.5 1.9 202.3 2 41.4 3.1 2.9 2.5 162 2.8 220.1"/>
<circle pathLength="4639.68" r="190.15" stroke="#f0d6de" stroke-width="15.7" stroke-dasharray="0 64.1 3.2 594.6 3.8 218.4 1.8 189.2 3 694.6 3.9 1164.9 3 348.9 3.3 120.8 4 154.1 2.2 653.2 1.7 216.2 1.8 189.8"/>
<circle pathLength="4639.68" r="166.45" stroke="#dfe4e8" stroke-width="15.9"/>
<circle pathLength="4639.68" r="166.45" stroke="#050505" stroke-width="15.9" stroke-dasharray="0 0 4.2 5.6 5.5 8.5 7.2 45.5 5.5 8.4 21.9 79.5 6.9 6.1 7.6 4 5.5 157.9 2 45.2 5.5 4.9 5.5 7.8 8.6 4.7 5.5 201.7 5.5 2 10.7 34.2 2.7 32.8 5.4 39.5 5.4 141.9 5.4 17.2 2.1 5.6 5.5 164.3 3.6 24.7 2.5 3.7 5.5 65.2 5.4 38.7 7.2 9.8 3.6 163.4 2.1 298.1 10.9 94.5 6.5 25.3 8.6 7.9 8.6 7.9 8.7 23.7 2.4 97.5 9 223.1 2.4 14.2 5.5 45.8 11.4 7.4 6.4 109.7 7.2 44.8 5.5 55.2 5.5 18 5.5 44.6 5.5 29.7 5.5 61 5.5 37.1 5.5 39.4 5.5 53 17.5 54.4 6.4 19.3 2.3 12.9 5.4 82.3 5.4 42.7 5.4 39.2 2.9 56.3 7.2 68.8 5.5 48.3 9 18.8 5.4 238.3 5.5 60.5 5.5 101.2 7.2 23.5 9 28.7 7.2 37.6 7.2 11.9 5.5 103.8 5.5 12.9 5.5 23.6 21.7 26.4 2.9 125 7.5 9.5 5.5 24.8 9.6 71.2 9 127.3 5.5 22.7"/>
<circle pathLength="4639.68" r="166.45" stroke="#ecd4b4" stroke-width="15.9" stroke-dasharray="0 4.5 3.7 7.4 3.2 31.6 5.5 68.4 5.5 36.7 5.5 25.6 2.5 10.5 4.9 48.9 2 13.5 10.3 134 5.5 10.7 5.5 13.7 2.5 14.2 5.5 17.1 5.5 3 2 43.6 5.5 97 5.5 36.2 5.5 25.3 5.5 12.1 5.5 31.3 5.5 442.5 5.5 485.4 5.5 12.9 5.5 5.3 3.5 51.1 5.5 78.3 2.2 28.4 2.3 22.5 3.5 131.9 5.5 298.8 3.3 7.8 2.3 122.8 2.1 7.8 3.6 37 3.5 12.2 5.5 39.2 3.8 20.5 3 33.7 5.5 17 2.3 90.7 2.6 12.3 3 78.4 4.2 65.4 5.5 74.3 2.3 155.5 3.1 168.2 2.5 211.1 5.5 202.3 3 36.1 5.5 110.7 3.2 59.1 3.1 84.4 5.5 92.3 10.3 16.3 6.2 18.5 7.8 95.2 3.9 2.9 5.5 78.3 10.4 23.6 3.8 112.1 5.5 33.8"/>
<circle pathLength="4639.68" r="166.45" stroke="#e8a05a" stroke-width="15.9" stroke-dasharray="0 112.7 4.2 44.7 5.5 11.1 7.6 29.3 5.5 1.7 3 218.1 3.5 0.5 3.2 6.1 4.2 86.5 5.5 109.7 5.5 33.6 5.5 219.2 9 21.8 3.6 106.6 2.6 49.7 11.9 8.6 9 33 3.8 150.1 5.5 357.5 9 44.4 2.1 92.2 2.9 38.4 2.2 7.1 4.3 37.8 2.3 22.6 4.2 39.5 8.9 114.6 5.5 51 5.5 140.8 2 76.2 2.8 15.7 9.3 69.4 5.5 65.5 2.9 152.4 5.5 18.2 3.3 203.3 3.9 55.4 3 7 3.4 58.8 9 210.1 2.5 2.4 10.7 58.8 2.2 69.5 3.7 44.9 5.5 53.6 5.5 57.6 9.1 268.3 2.6 143.5 5.5 86.5 2.1 182.7 2.9 34.2 3.6 2.2 5.5 258.4"/>
<circle pathLength="4639.68" r="166.45" stroke="#eed2b0" stroke-width="15.9" stroke-dasharray="0 73.4 2.8 122.9 3.6 11.1 2.5 135.3 2.4 79 2.9 230.8 4.3 18.8 2.8 72.2 3.7 41.2 2.7 180.3 2.2 151.9 4.4 40.6 4.4 584.8 2.2 147.8 4 396.9 4.2 305.1 3.5 518.3 2.4 37.4 2.3 226.7 1.5 428.2 2.9 58.7 3.1 85.9 3.1 106.1 2.3 15.5 3.8 201.3 3.6 46 3.6 243.2"/>
<circle pathLength="4639.68" r="166.45" stroke="#7a4a1c" stroke-width="15.9" stroke-dasharray="0 715.1 3 2123.5 1.5 553.3 2.7 61.1 2.5 506.1 2.5 669.3"/>
<circle pathLength="4639.68" r="166.45" stroke="#ecdcc8" stroke-width="15.9" stroke-dasharray="0 141 3.1 46.2 1.6 724.9 2 956.5 2.8 420.8 2.1 643.1 1.8 666.2 2.1 376.2 2.3 498.2 3.4 146.6"/>
<circle pathLength="4639.68" r="142.35" stroke="#e4ecec" stroke-width="16.1"/>
<circle pathLength="4639.68" r="142.35" stroke="#b0f0dc" stroke-width="16.1" stroke-dasharray="0 0 10.4 11.3 15.2 10.8 5.7 12.4 13.3 66.8 8.2 44.1 26.8 11.1 7.5 5.6 5.5 19.8 23.7 159.1 20 88.3 12.6 42.3 12.7 11.4 9.2 29.5 10.3 27.9 27.9 118.6 27.4 8 25.9 45.3 14.9 23.7 6.1 11.4 16.2 66.9 6.5 76.7 14.1 19.1 5.9 136.9 9.7 25.9 12.2 81.6 13.2 42 12.4 2383.4 16.1 28 10.2 61 5.5 6.4 13.6 175.3 10.9 11.2 7.3 13 9 56.3 6.6 46 15.8 33.9 7.8 7.8 5.3 140"/>
<circle pathLength="4639.68" r="142.35" stroke="#84edcc" stroke-width="16.1" stroke-dasharray="0 10.1 6.8 80.1 11.8 8.9 18.8 17.3 8.4 62.5 11.7 18 20.4 23.1 17.6 55.7 18.2 13.2 20.5 59.9 6.4 5 14.2 25.6 7.8 55.7 23 205.4 11.2 5 15.1 87.4 9.4 7.2 13.3 71.7 14.3 32.1 6.5 20.6 15.6 8.8 19.5 18 10.1 18.7 8.1 17 8.6 45 15.9 19.8 9.1 17.1 12 25.8 7.4 33.7 13.7 28.9 10.5 2494.7 19.6 118.1 15.7 66.3 9.4 130.7 12.8 32.7 34.4 222.5"/>
<circle pathLength="4639.68" r="142.35" stroke="#98efd4" stroke-width="16.1" stroke-dasharray="0 16.6 5.4 14.6 11.4 5.1 13 20.3 10.9 38.9 9.9 22.9 29.4 44.8 6.2 65.7 12 7.7 16.3 38 13.8 29.4 25.4 19.4 6.3 25 26.2 7.2 24.2 26.3 5.9 34.9 12 170.9 10.6 30.7 11.1 26.8 8.6 25.3 16.3 44 24.3 93.1 7.4 49.5 18.6 9.5 5.5 21.3 12 74.6 20.4 8.5 17.7 11.4 10.1 9.1 7.2 6.8 12.5 11.6 10.2 13.1 29.5 18.4 11 23.5 5.4 12 14.4 2389.8 6 15.5 9.3 115.4 22.3 23.9 43 39.8 46.9 10.3 11.8 6.7 13.6 8.4 6.4 35.1 15.4 40.1 12.5 21.3 28.3 7.2 8.4 4.7 12.5 127.9"/>
<circle pathLength="4639.68" r="142.35" stroke="#c8f0e4" stroke-width="16.1" stroke-dasharray="0 78.8 7.9 491.3 14.6 61.1 17.4 22.3 28.5 27.3 6.4 41.2 19.6 202.8 12 484.4 11.2 4.8 5.8 2397.7 13.3 59.5 61.6 4.9 7 364.4 6.4 60.5 5.3 72.3 23.4 12.6 11.2 3.4"/>
<circle pathLength="4639.68" r="142.35" stroke="#72ebc6" stroke-width="16.1" stroke-dasharray="0 108.5 9.5 43.9 7.5 157.5 8.3 15.7 20.7 51.4 9.7 56.6 5.6 342.4 5.6 111.3 7.8 98.7 32.7 5.9 7.8 28.3 9.4 99.4 16 223.1 8.9 2639.4 9.1 42.4 15.5 8.8 16.2 103.5 11.7 12.2 11.8 278.1"/>
<circle pathLength="4639.68" r="142.35" stroke="#dceeea" stroke-width="16.1" stroke-dasharray="0 670.8 13 71.5 41.8 739.9 7.1 2385.4 5.8 582.4 72.9 22.8 13.2 10.6 2.7 1"/>
<circle pathLength="4639.68" r="142.35" stroke="#62e8c0" stroke-width="16.1" stroke-dasharray="0 1260 29.9 3350.8"/>
<circle pathLength="4639.68" r="142.35" stroke="#d6b4f5" stroke-width="16.1" stroke-dasharray="0 1569.9 46 104.5 15.5 6.8 19.1 1235 10.6 5.3 7 86.9 13 15.6 7.3 11.3 24.7 31.1 31.6 33.8 11.7 13.3 14.3 22.1 22.3 33.6 22.7 20 12.4 48.9 9 7.3 10.5 63.2 7.7 34.1 11.3 12.9 5.7 58.6 9.1 6.8 37.2 46.2 10 34.8 8.1 43.3 11 717.7"/>
<circle pathLength="4639.68" r="142.35" stroke="#cc9ef3" stroke-width="16.1" stroke-dasharray="0 1615.6 39.7 14.7 50.7 14.9 7.4 29.5 20.2 29.3 24.6 170.9 34.1 151.8 18.8 342.3 11.6 202.3 13 15.3 13.7 123.7 10.3 27.6 14.8 10 5.9 21.5 28.9 35.3 8.3 12.4 16.2 53.7 20.7 31 7.7 14.5 12.2 16.8 8.2 21.3 15.1 21.7 34.2 95.6 8.3 26.2 14.7 41.6 7.6 32.5 9.2 29.4 14.7 153.3 9 40.3 9.8 15.4 12.3 728.4"/>
<circle pathLength="4639.68" r="142.35" stroke="#c088f2" stroke-width="16.1" stroke-dasharray="0 1655 15.3 91.2 11.3 73.6 26 35.5 16 21.5 16 5.3 51.2 33.5 12.6 62.1 12.3 38.5 5.5 13.8 7.6 40.5 12.3 20.1 7.6 158.7 10.3 15.2 15.8 75.2 5.4 11 12 114 6.3 65.2 5.4 12.4 15.9 13.1 16 26.3 13 53 6.1 19.6 28.2 80.4 35.9 79.2 11.3 58.8 15.1 23 6 122.3 20.6 11.8 27.1 62.9 5.9 6.8 12.4 109.9 44.8 923.9"/>
<circle pathLength="4639.68" r="142.35" stroke="#b474ef" stroke-width="16.1" stroke-dasharray="0 1792.4 29.9 64.8 21 52.9 5.9 96.8 11.7 20.1 24 18.7 39.1 4.9 5.9 33.9 22.6 11.7 15.4 17.5 13.1 150.7 15.8 15.2 29.7 24.7 21.4 27.9 8.3 24.1 25.3 9.9 47 5.7 65.8 62.3 20.1 19.1 19.1 22.5 12 5.5 10.3 529.1 14.6 54.1 7.4 11.8 17.4 1061.5"/>
<circle pathLength="4639.68" r="142.35" stroke="#a85eec" stroke-width="16.1" stroke-dasharray="0 1872.1 15.4 36.1 22.1 129.6 20.7 23.4 7.3 61.3 8.7 74.8 5.6 7 5.5 12.5 141.3 70.1 25.3 57 24.7 24.7 10.5 200.2 7.1 31.2 23.1 1723.4"/>
<circle pathLength="4639.68" r="142.35" stroke="#e0c8f6" stroke-width="16.1" stroke-dasharray="0 3019.4 15.3 107.4 11.9 160 7.9 183 7.9 80.7 25.7 19.7 13.5 72.9 7.4 36.6 46.8 18.1 12.7 21.6 6.6 9.2 16 740.4"/>
<circle pathLength="4639.68" r="142.35" stroke="#e9dcf6" stroke-width="16.1" stroke-dasharray="0 3846.6 14.4 61.7 7 711"/>
<circle pathLength="4639.68" r="142.35" stroke="#06140e" stroke-width="16.1" stroke-dasharray="0 101 25.2 54.3 3.6 13.9 3.6 335.8 3.6 902.4 3.6 9.5 25.2 2661.3 28.8 468.8"/>
</g></g>
<use href="#rings" opacity="0.5"/>
<g stroke-linecap="butt">
<circle cx="443.8" cy="438.5" r="122.3" fill="none" stroke="#848a8c" stroke-width="1.4"/>
<path d="M459.9 320.5L460.7 314.1M475.7 323.7L477.4 317.6M490.9 329.1L493.4 323.2M505.2 336.5L508.5 331.0M530.3 356.6L534.9 352.2M540.5 369.0L545.7 365.3M549.0 382.7L554.7 379.7M555.6 397.4L561.6 395.2M562.5 428.8L568.9 428.3M562.7 445.0L569.1 445.3M560.8 461.0L567.0 462.2M556.7 476.5L562.7 478.6M542.4 505.4L547.7 508.9M532.4 518.0L537.2 522.3M520.9 529.3L525.0 534.2M507.9 538.9L511.4 544.3M478.7 552.4L480.6 558.5M463.0 556.0L464.1 562.4M447.0 557.6L447.2 564.0M430.9 556.9L430.2 563.3M399.7 549.1L397.3 555.1M385.2 542.2L382.0 547.7M371.7 533.3L367.8 538.4M359.6 522.7L355.0 527.2M340.1 497.1L334.5 500.2M333.1 482.5L327.2 484.9M328.2 467.2L322.0 468.7M325.4 451.3L319.0 452.0M326.3 419.2L320.0 418.2M330.0 403.5L323.8 401.6M335.7 388.5L329.9 385.8M343.5 374.3L338.1 370.9M364.3 349.8L360.0 345.1M377.0 339.9L373.4 334.6M390.9 331.8L388.1 326.0M405.8 325.6L403.8 319.6M421.4 321.5L420.2 315.2M437.4 319.6L437.1 313.2" stroke="#6f787b" stroke-width="1.3"/>
<path d="M443.8 320.9L443.8 311.5M517.5 346.8L523.4 339.5M558.7 413.2L567.8 411.2M549.1 490.8L557.6 494.9M493.2 545.2L497.1 553.8M415.4 552.6L413.1 561.7M350.2 509.6L342.7 515.3M326.2 435.3L316.8 435.0M354.2 362.3L347.0 356.2" stroke="#3c4548" stroke-width="1.7"/>
</g>
<g font-family="Liberation Sans, Arial, sans-serif" font-size="15" fill="#6a6a6a" text-anchor="middle">
<text transform="translate(441.7 330.2) rotate(-1.1)" dy="5.3">0M</text>
<text transform="translate(510.0 352.8) rotate(37.7)" dy="5.3">0.5M</text>
<text transform="translate(549.1 413.2) rotate(76.5)" dy="5.3">1M</text>
<text transform="translate(541.7 484.8) rotate(115.3)" dy="5.3">1.5M</text>
<text transform="translate(491.1 535.9) rotate(154.1)" dy="5.3">2M</text>
<text transform="translate(419.7 544.1) rotate(192.9)" dy="5.3">2.5M</text>
<text transform="translate(358.8 505.7) rotate(231.7)" dy="5.3">3M</text>
<text transform="translate(335.5 437.6) rotate(270.5)" dy="5.3">3.5M</text>
<text transform="translate(360.0 370.0) rotate(309.3)" dy="5.3">4M</text>
</g>
<text transform="translate(446 432.5) scale(1.12 1)" text-anchor="middle" font-family="Liberation Sans, Arial, sans-serif" font-size="21.5" fill="#111"><tspan font-style="italic">E. coli</tspan> K-12</text>
<text transform="translate(449 452.5) scale(1.15 1)" text-anchor="middle" font-family="Liberation Sans, Arial, sans-serif" font-size="9.4" font-style="italic" fill="#222" xml:space="preserve">4,639,675  bp</text>
<g>
<path d="M808.0 534.4A376.6 376.6 0 0 1 749.6 658.3M803.9 533.3L812.1 535.4M746.2 655.8L753.0 660.7" fill="none" stroke="#3d5bd0" stroke-width="1.6"/>
<path d="M136.1 227.7L130.1 223.6M136.1 227.7L130.1 223.6" fill="none" stroke="#3d5bd0" stroke-width="1.5"/>
<path d="M575.1 85.5A376.6 376.6 0 0 1 604.3 97.8M573.8 89.2L576.5 81.9M602.6 101.3L605.9 94.3" fill="none" stroke="#111" stroke-width="1.7"/>
<path d="M607.0 99.1A376.6 376.6 0 0 1 627.4 109.7M605.3 102.6L608.7 95.6M625.5 113.1L629.3 106.3" fill="none" stroke="#111" stroke-width="1.7"/>
<path d="M628.7 110.4A376.6 376.6 0 0 1 632.7 112.7M626.8 113.8L630.6 107.0M630.7 116.1L634.7 109.3" fill="none" stroke="#111" stroke-width="1.7"/>
<path d="M633.1 113.0A376.6 376.6 0 0 1 637.5 115.6M631.2 116.3L635.1 109.6M635.5 118.9L639.5 112.2" fill="none" stroke="#111" stroke-width="1.7"/>
<path d="M688.4 152.1A376.6 376.6 0 0 1 691.1 154.5M685.9 155.1L690.9 149.2M688.5 157.4L693.7 151.5" fill="none" stroke="#111" stroke-width="1.7"/>
<path d="M704.3 166.5A376.6 376.6 0 0 1 711.9 174.0M701.6 169.3L707.0 163.7M709.1 176.8L714.7 171.3" fill="none" stroke="#111" stroke-width="1.7"/>
<path d="M718.3 180.6A376.6 376.6 0 0 1 720.4 182.9M715.4 183.3L721.1 178.0M717.5 185.5L723.2 180.2" fill="none" stroke="#111" stroke-width="1.7"/>
<path d="M745.6 213.2A376.6 376.6 0 0 1 746.3 214.2M742.4 215.5L748.7 210.8M743.2 216.5L749.4 211.8" fill="none" stroke="#111" stroke-width="1.7"/>
<path d="M758.1 231.0A376.6 376.6 0 0 1 760.6 234.8M754.8 233.1L761.3 228.8M757.3 236.9L763.9 232.7" fill="none" stroke="#111" stroke-width="1.7"/>
<path d="M815.5 378.1A376.6 376.6 0 0 1 816.2 382.6M811.7 378.7L819.4 377.5M812.4 383.2L820.1 382.1" fill="none" stroke="#111" stroke-width="1.7"/>
<path d="M818.5 400.4A376.6 376.6 0 0 1 819.0 406.5M814.6 400.8L822.3 400.0M815.1 406.8L822.9 406.1" fill="none" stroke="#111" stroke-width="1.7"/>
<path d="M820.1 422.7A376.6 376.6 0 0 1 820.3 428.3M816.2 422.9L824.0 422.6M816.4 428.4L824.2 428.2" fill="none" stroke="#111" stroke-width="1.7"/>
<path d="M820.0 456.9A376.6 376.6 0 0 1 819.1 470.1M816.1 456.7L823.8 457.1M815.2 469.8L823.0 470.5" fill="none" stroke="#111" stroke-width="1.7"/>
<path d="M802.7 552.5A376.6 376.6 0 0 1 801.2 557.3M799.0 551.3L806.4 553.7M797.5 556.1L804.9 558.6" fill="none" stroke="#111" stroke-width="1.7"/>
<path d="M801.0 557.8A376.6 376.6 0 0 1 785.6 596.7M797.3 556.6L804.7 559.1M782.0 595.0L789.1 598.3" fill="none" stroke="#111" stroke-width="1.7"/>
<path d="M775.1 617.6A376.6 376.6 0 0 1 773.6 620.3M771.6 615.8L778.5 619.5M770.2 618.5L777.0 622.2" fill="none" stroke="#111" stroke-width="1.7"/>
<path d="M747.8 660.7A376.6 376.6 0 0 1 740.1 670.9M744.7 658.4L751.0 663.0M737.1 668.5L743.2 673.3" fill="none" stroke="#111" stroke-width="1.7"/>
<path d="M658.6 747.9A376.6 376.6 0 0 1 657.5 748.6M656.4 744.6L660.8 751.1M655.3 745.4L659.7 751.8" fill="none" stroke="#111" stroke-width="1.7"/>
<path d="M619.7 771.5A376.6 376.6 0 0 1 612.4 775.2M617.9 768.1L621.5 775.0M610.7 771.7L614.2 778.7" fill="none" stroke="#111" stroke-width="1.7"/>
<path d="M604.2 779.2A376.6 376.6 0 0 1 591.6 784.9M602.5 775.7L605.8 782.8M590.1 781.3L593.1 788.5" fill="none" stroke="#111" stroke-width="1.7"/>
<path d="M571.7 792.7A376.6 376.6 0 0 1 564.5 795.2M570.4 789.1L573.0 796.4M563.2 791.6L565.7 798.9" fill="none" stroke="#111" stroke-width="1.7"/>
<path d="M554.8 798.4A376.6 376.6 0 0 1 536.6 803.5M553.6 794.7L555.9 802.1M535.6 799.7L537.6 807.3" fill="none" stroke="#111" stroke-width="1.7"/>
<path d="M523.2 806.6A376.6 376.6 0 0 1 517.2 807.9M522.4 802.8L524.0 810.4M516.4 804.1L518.0 811.7" fill="none" stroke="#111" stroke-width="1.7"/>
<path d="M461.7 814.7A376.6 376.6 0 0 1 460.4 814.7M461.5 810.8L461.9 818.6M460.2 810.8L460.6 818.6" fill="none" stroke="#111" stroke-width="1.7"/>
<path d="M370.2 807.8A376.6 376.6 0 0 1 365.7 806.9M371.0 804.0L369.5 811.7M366.6 803.1L364.9 810.7" fill="none" stroke="#111" stroke-width="1.7"/>
<path d="M348.9 802.9A376.6 376.6 0 0 1 344.9 801.9M349.9 799.2L347.9 806.7M346.0 798.1L343.9 805.7" fill="none" stroke="#111" stroke-width="1.7"/>
<path d="M324.9 795.8A376.6 376.6 0 0 1 321.5 794.7M326.1 792.1L323.7 799.5M322.8 791.0L320.3 798.4" fill="none" stroke="#111" stroke-width="1.7"/>
<path d="M234.9 751.9A376.6 376.6 0 0 1 220.3 741.6M237.1 748.6L232.8 755.1M222.6 738.5L218.0 744.7" fill="none" stroke="#111" stroke-width="1.7"/>
<path d="M145.9 668.9A376.6 376.6 0 0 1 145.1 667.8M149.0 666.5L142.8 671.3M148.2 665.4L142.0 670.2" fill="none" stroke="#111" stroke-width="1.7"/>
<path d="M119.0 629.1A376.6 376.6 0 0 1 118.4 628.1M122.4 627.2L115.7 631.1M121.8 626.1L115.0 630.1" fill="none" stroke="#111" stroke-width="1.7"/>
<path d="M113.7 619.7A376.6 376.6 0 0 1 107.7 608.5M117.1 617.9L110.3 621.6M111.2 606.7L104.3 610.2" fill="none" stroke="#111" stroke-width="1.7"/>
<path d="M97.2 585.8A376.6 376.6 0 0 1 95.8 582.5M100.8 584.3L93.6 587.3M99.4 581.0L92.2 584.0" fill="none" stroke="#111" stroke-width="1.7"/>
<path d="M72.1 499.3A376.6 376.6 0 0 1 71.7 496.8M76.0 498.7L68.3 499.9M75.6 496.2L67.9 497.4" fill="none" stroke="#111" stroke-width="1.7"/>
<path d="M67.5 452.7A376.6 376.6 0 0 1 67.3 445.0M71.4 452.5L63.6 452.8M71.2 444.9L63.4 445.1" fill="none" stroke="#111" stroke-width="1.7"/>
<path d="M70.6 387.7A376.6 376.6 0 0 1 70.8 386.4M74.5 388.2L66.8 387.2M74.7 386.9L67.0 385.8" fill="none" stroke="#111" stroke-width="1.7"/>
<path d="M73.7 368.9A376.6 376.6 0 0 1 74.3 365.9M77.5 369.6L69.9 368.2M78.1 366.7L70.4 365.2" fill="none" stroke="#111" stroke-width="1.7"/>
<path d="M77.0 353.0A376.6 376.6 0 0 1 77.3 351.8M80.8 353.9L73.2 352.2M81.1 352.7L73.5 350.9" fill="none" stroke="#111" stroke-width="1.7"/>
<path d="M86.6 319.2A376.6 376.6 0 0 1 87.0 318.0M90.3 320.4L82.9 318.0M90.7 319.3L83.3 316.8" fill="none" stroke="#111" stroke-width="1.7"/>
<path d="M94.0 299.0A376.6 376.6 0 0 1 95.5 295.2M97.6 300.4L90.4 297.5M99.1 296.7L91.9 293.7" fill="none" stroke="#111" stroke-width="1.7"/>
<path d="M370.0 69.2A376.6 376.6 0 0 1 396.7 64.9M370.8 73.0L369.2 65.4M397.1 68.7L396.2 61.0" fill="none" stroke="#111" stroke-width="1.7"/>
<path d="M399.7 64.5A376.6 376.6 0 0 1 421.0 62.6M400.2 68.4L399.2 60.6M421.3 66.5L420.8 58.7" fill="none" stroke="#111" stroke-width="1.7"/>
<path d="M451.4 62.0A376.6 376.6 0 0 1 454.5 62.1M451.4 65.9L451.5 58.1M454.4 66.0L454.6 58.2" fill="none" stroke="#111" stroke-width="1.7"/>
<path d="M528.2 71.5A376.6 376.6 0 0 1 531.2 72.2M527.4 75.3L529.1 67.7M530.3 76.0L532.1 68.4" fill="none" stroke="#111" stroke-width="1.7"/>
</g>
<g font-family="Liberation Sans, Arial, sans-serif" font-size="12" fill="#111" stroke="#111" stroke-width="0.25">
<text transform="translate(593.6 82.2) rotate(-67.2)" dy="0.6">MD1</text>
<text transform="translate(621.8 95.4) rotate(-62.6)" dy="0.6">MD43</text>
<text transform="translate(634.2 102.1) rotate(-60.5)" dy="0.6">MD16</text>
<text transform="translate(643.6 107.6) rotate(-58.9)" dy="0.6">MD17</text>
<text transform="translate(696.2 145.8) rotate(-49.2)" dy="0.6">MD30</text>
<text transform="translate(715.1 163.2) rotate(-45.4)" dy="0.6">MD12</text>
<text transform="translate(726.6 175.0) rotate(-43.0)" dy="0.6">MD14</text>
<text transform="translate(753.9 207.8) rotate(-36.7)" dy="0.6">MD20</text>
<text transform="translate(767.6 227.5) rotate(-33.1)" dy="0.6">MD31</text>
<text transform="translate(825.7 378.9) rotate(-8.9)" dy="0.6">MD35</text>
<text transform="translate(828.6 402.5) rotate(-5.3)" dy="0.6">MD36</text>
<text transform="translate(830.1 425.2) rotate(-2.0)" dy="0.6">MD26</text>
<text transform="translate(829.4 464.2) rotate(3.8)" dy="0.6">MD11</text>
<text transform="translate(812.5 557.6) rotate(17.9)" dy="0.6">MD21</text>
<text transform="translate(804.4 580.2) rotate(21.5)" dy="0.6">MD2</text>
<text transform="translate(784.2 623.6) rotate(28.5)" dy="0.6">MD32</text>
<text transform="translate(753.1 671.9) rotate(37.0)" dy="0.6">MD8</text>
<text transform="translate(663.7 756.4) rotate(55.3)" dy="0.6">MD40</text>
<text transform="translate(620.6 782.2) rotate(62.8)" dy="0.6">MD27</text>
<text transform="translate(602.0 791.2) rotate(65.8)" dy="0.6">MD28</text>
<text transform="translate(571.3 803.3) rotate(70.7)" dy="0.6">MD5</text>
<text transform="translate(548.4 810.6) rotate(74.3)" dy="0.6">MD22</text>
<text transform="translate(522.2 817.0) rotate(78.3)" dy="0.6">MD37</text>
<text transform="translate(461.5 824.6) rotate(87.4)" dy="0.6">MD23</text>
<text transform="translate(366.0 817.1) rotate(101.6)" dy="0.6">MD7</text>
<text transform="translate(344.4 812.0) rotate(104.9)" dy="0.6">MD15</text>
<text transform="translate(320.1 804.7) rotate(108.7)" dy="0.6">MD3</text>
<text transform="translate(221.9 754.9) rotate(125.0)" dy="0.6">MD4</text>
<text transform="translate(137.6 674.4) rotate(142.4)" dy="0.6">MD18</text>
<text transform="translate(110.2 633.6) rotate(149.7)" dy="0.6">MD42</text>
<text transform="translate(101.9 618.7) rotate(152.2)" dy="0.6">MD10</text>
<text transform="translate(87.4 588.0) rotate(157.2)" dy="0.6">MD19</text>
<text transform="translate(62.2 499.6) rotate(170.9)" dy="0.6">MD24</text>
<text transform="translate(57.4 449.1) rotate(178.4)" dy="0.6">MD6</text>
<text transform="translate(60.9 385.7) rotate(187.9)" dy="0.6">MD38</text>
<text transform="translate(64.2 365.5) rotate(190.9)" dy="0.6">MD33</text>
<text transform="translate(67.5 350.2) rotate(193.2)" dy="0.6">MD25</text>
<text transform="translate(77.4 315.5) rotate(198.6)" dy="0.6">MD39</text>
<text transform="translate(85.6 293.4) rotate(202.1)" dy="0.6">MD34</text>
<text transform="translate(381.7 57.0) rotate(260.8)" dy="0.6">MD9</text>
<text transform="translate(409.5 53.5) rotate(264.9)" dy="0.6">MD29</text>
<text transform="translate(453.2 52.1) rotate(-88.6)" dy="0.6">MD13</text>
<text transform="translate(532.0 62.2) rotate(-76.8)" dy="0.6">MD41</text>
</g>
<g font-family="Liberation Sans, Arial, sans-serif" font-size="20.5" fill="#3d5bd0">
<text transform="translate(797.8 596.1) rotate(24.0)" dy="7.2" font-size="21.2">Terminus</text>
<text transform="translate(122.1 220.7) rotate(214.1)" dy="7.2">Origin</text>
</g>
<rect x="916" y="78" width="260.3" height="721.5" fill="#d9d9d9"/>
<g font-family="Liberation Sans, Arial, sans-serif" fill="#111">
<text transform="translate(930.6 115) scale(1.1 1)" font-size="16.6"><tspan font-style="italic">Yersinia pestis</tspan> Mediaevalis</text>
<rect x="937.80" y="124" width="10.21" height="6.6" fill="#e8eef2"/>
<rect x="947.96" y="124" width="10.21" height="6.6" fill="#e9ebf4"/>
<rect x="958.12" y="124" width="10.21" height="6.6" fill="#eae8f5"/>
<rect x="968.28" y="124" width="10.21" height="6.6" fill="#eae5f7"/>
<rect x="978.44" y="124" width="10.21" height="6.6" fill="#ebe1f8"/>
<rect x="988.60" y="124" width="10.21" height="6.6" fill="#ecdefa"/>
<rect x="998.76" y="124" width="10.21" height="6.6" fill="#f1b9fc"/>
<rect x="1008.92" y="124" width="10.21" height="6.6" fill="#efa9fb"/>
<rect x="1019.08" y="124" width="10.21" height="6.6" fill="#eb9cfa"/>
<rect x="1029.24" y="124" width="10.21" height="6.6" fill="#e78ffa"/>
<rect x="1039.40" y="124" width="10.21" height="6.6" fill="#e482f9"/>
<rect x="1049.56" y="124" width="10.21" height="6.6" fill="#e075f8"/>
<rect x="1059.72" y="124" width="10.21" height="6.6" fill="#d86cf6"/>
<rect x="1069.88" y="124" width="10.21" height="6.6" fill="#d063f5"/>
<rect x="1080.04" y="124" width="10.21" height="6.6" fill="#c85af3"/>
<rect x="1090.20" y="124" width="10.21" height="6.6" fill="#c051f1"/>
<rect x="1100.36" y="124" width="10.21" height="6.6" fill="#b849f0"/>
<rect x="1110.52" y="124" width="10.21" height="6.6" fill="#b040ee"/>
<rect x="1120.68" y="124" width="10.21" height="6.6" fill="#0a0850"/>
<text x="940" y="138.3" font-size="8.6" fill="#222">0.00</text>
<text x="1108" y="138.3" font-size="8.6" fill="#222">100.00</text>
<text x="1134.7" y="140.4" font-size="10.4" fill="#222">avg</text>
<text transform="translate(930.6 180) scale(1.02 1)" font-size="16.6"><tspan font-style="italic">Salmonella enterica</tspan> ATCC9150</text>
<rect x="937.80" y="189" width="10.21" height="6.6" fill="#e8eef2"/>
<rect x="947.96" y="189" width="10.21" height="6.6" fill="#e7ebf4"/>
<rect x="958.12" y="189" width="10.21" height="6.6" fill="#e6e9f5"/>
<rect x="968.28" y="189" width="10.21" height="6.6" fill="#e6e6f7"/>
<rect x="978.44" y="189" width="10.21" height="6.6" fill="#e5e3f8"/>
<rect x="988.60" y="189" width="10.21" height="6.6" fill="#e4e0fa"/>
<rect x="998.76" y="189" width="10.21" height="6.6" fill="#d8c7fa"/>
<rect x="1008.92" y="189" width="10.21" height="6.6" fill="#cab7f8"/>
<rect x="1019.08" y="189" width="10.21" height="6.6" fill="#bba9f7"/>
<rect x="1029.24" y="189" width="10.21" height="6.6" fill="#ad9bf5"/>
<rect x="1039.40" y="189" width="10.21" height="6.6" fill="#9f8cf3"/>
<rect x="1049.56" y="189" width="10.21" height="6.6" fill="#917ef1"/>
<rect x="1059.72" y="189" width="10.21" height="6.6" fill="#8370ef"/>
<rect x="1069.88" y="189" width="10.21" height="6.6" fill="#7561ed"/>
<rect x="1080.04" y="189" width="10.21" height="6.6" fill="#6653ec"/>
<rect x="1090.20" y="189" width="10.21" height="6.6" fill="#5845ea"/>
<rect x="1100.36" y="189" width="10.21" height="6.6" fill="#4a36e8"/>
<rect x="1110.52" y="189" width="10.21" height="6.6" fill="#3c28e6"/>
<rect x="1120.68" y="189" width="10.21" height="6.6" fill="#0a0846"/>
<text x="940" y="203.3" font-size="8.6" fill="#222">0.00</text>
<text x="1108" y="203.3" font-size="8.6" fill="#222">100.00</text>
<text x="1134.7" y="205.4" font-size="10.4" fill="#222">avg</text>
<text transform="translate(930.6 245) scale(1.1 1)" font-size="16.6"><tspan font-style="italic">E. coli</tspan> CFT073</text>
<rect x="937.80" y="254" width="10.21" height="6.6" fill="#e8eef2"/>
<rect x="947.96" y="254" width="10.21" height="6.6" fill="#e6ecf4"/>
<rect x="958.12" y="254" width="10.21" height="6.6" fill="#e5ebf5"/>
<rect x="968.28" y="254" width="10.21" height="6.6" fill="#e3e9f7"/>
<rect x="978.44" y="254" width="10.21" height="6.6" fill="#e2e8f8"/>
<rect x="988.60" y="254" width="10.21" height="6.6" fill="#e0e6fa"/>
<rect x="998.76" y="254" width="10.21" height="6.6" fill="#c7cffa"/>
<rect x="1008.92" y="254" width="10.21" height="6.6" fill="#b7bff9"/>
<rect x="1019.08" y="254" width="10.21" height="6.6" fill="#a7b1f7"/>
<rect x="1029.24" y="254" width="10.21" height="6.6" fill="#98a3f5"/>
<rect x="1039.40" y="254" width="10.21" height="6.6" fill="#8994f4"/>
<rect x="1049.56" y="254" width="10.21" height="6.6" fill="#7a86f2"/>
<rect x="1059.72" y="254" width="10.21" height="6.6" fill="#6a78f0"/>
<rect x="1069.88" y="254" width="10.21" height="6.6" fill="#5b69ef"/>
<rect x="1080.04" y="254" width="10.21" height="6.6" fill="#4c5bed"/>
<rect x="1090.20" y="254" width="10.21" height="6.6" fill="#3d4deb"/>
<rect x="1100.36" y="254" width="10.21" height="6.6" fill="#2d3eea"/>
<rect x="1110.52" y="254" width="10.21" height="6.6" fill="#1e30e8"/>
<rect x="1120.68" y="254" width="10.21" height="6.6" fill="#08083c"/>
<text x="940" y="268.3" font-size="8.6" fill="#222">0.00</text>
<text x="1108" y="268.3" font-size="8.6" fill="#222">100.00</text>
<text x="1134.7" y="270.4" font-size="10.4" fill="#222">avg</text>
<text transform="translate(930.6 310) scale(1.1 1)" font-size="16.6"><tspan font-style="italic">E. coli</tspan> O157 RIMD</text>
<rect x="937.80" y="319" width="10.21" height="6.6" fill="#e8eef2"/>
<rect x="947.96" y="319" width="10.21" height="6.6" fill="#e6ecf4"/>
<rect x="958.12" y="319" width="10.21" height="6.6" fill="#e5ebf5"/>
<rect x="968.28" y="319" width="10.21" height="6.6" fill="#e3e9f7"/>
<rect x="978.44" y="319" width="10.21" height="6.6" fill="#e2e8f8"/>
<rect x="988.60" y="319" width="10.21" height="6.6" fill="#e0e6fa"/>
<rect x="998.76" y="319" width="10.21" height="6.6" fill="#c7cffa"/>
<rect x="1008.92" y="319" width="10.21" height="6.6" fill="#b7bff9"/>
<rect x="1019.08" y="319" width="10.21" height="6.6" fill="#a7b1f7"/>
<rect x="1029.24" y="319" width="10.21" height="6.6" fill="#98a3f5"/>
<rect x="1039.40" y="319" width="10.21" height="6.6" fill="#8994f4"/>
<rect x="1049.56" y="319" width="10.21" height="6.6" fill="#7a86f2"/>
<rect x="1059.72" y="319" width="10.21" height="6.6" fill="#6a78f0"/>
<rect x="1069.88" y="319" width="10.21" height="6.6" fill="#5b69ef"/>
<rect x="1080.04" y="319" width="10.21" height="6.6" fill="#4c5bed"/>
<rect x="1090.20" y="319" width="10.21" height="6.6" fill="#3d4deb"/>
<rect x="1100.36" y="319" width="10.21" height="6.6" fill="#2d3eea"/>
<rect x="1110.52" y="319" width="10.21" height="6.6" fill="#1e30e8"/>
<rect x="1120.68" y="319" width="10.21" height="6.6" fill="#08083c"/>
<text x="940" y="333.3" font-size="8.6" fill="#222">0.00</text>
<text x="1108" y="333.3" font-size="8.6" fill="#222">100.00</text>
<text x="1134.7" y="335.4" font-size="10.4" fill="#222">avg</text>
<text transform="translate(930.6 375.3) scale(1.1 1)" font-size="16.6"><tspan font-style="italic">E. coli</tspan> K-12 W3110</text>
<rect x="937.80" y="384.3" width="10.21" height="6.6" fill="#e8eef2"/>
<rect x="947.96" y="384.3" width="10.21" height="6.6" fill="#e6ecf4"/>
<rect x="958.12" y="384.3" width="10.21" height="6.6" fill="#e5ebf5"/>
<rect x="968.28" y="384.3" width="10.21" height="6.6" fill="#e3e9f7"/>
<rect x="978.44" y="384.3" width="10.21" height="6.6" fill="#e2e8f8"/>
<rect x="988.60" y="384.3" width="10.21" height="6.6" fill="#e0e6fa"/>
<rect x="998.76" y="384.3" width="10.21" height="6.6" fill="#c7cffa"/>
<rect x="1008.92" y="384.3" width="10.21" height="6.6" fill="#b7bff9"/>
<rect x="1019.08" y="384.3" width="10.21" height="6.6" fill="#a7b1f7"/>
<rect x="1029.24" y="384.3" width="10.21" height="6.6" fill="#98a3f5"/>
<rect x="1039.40" y="384.3" width="10.21" height="6.6" fill="#8994f4"/>
<rect x="1049.56" y="384.3" width="10.21" height="6.6" fill="#7a86f2"/>
<rect x="1059.72" y="384.3" width="10.21" height="6.6" fill="#6a78f0"/>
<rect x="1069.88" y="384.3" width="10.21" height="6.6" fill="#5b69ef"/>
<rect x="1080.04" y="384.3" width="10.21" height="6.6" fill="#4c5bed"/>
<rect x="1090.20" y="384.3" width="10.21" height="6.6" fill="#3d4deb"/>
<rect x="1100.36" y="384.3" width="10.21" height="6.6" fill="#2d3eea"/>
<rect x="1110.52" y="384.3" width="10.21" height="6.6" fill="#1e30e8"/>
<rect x="1120.68" y="384.3" width="10.21" height="6.6" fill="#08083c"/>
<text x="940" y="398.6" font-size="8.6" fill="#222">0.00</text>
<text x="1108" y="398.6" font-size="8.6" fill="#222">100.00</text>
<text x="1134.7" y="400.7" font-size="10.4" fill="#222">avg</text>
<text transform="translate(930.6 444) scale(1.1 1)" font-size="16.6"><tspan font-style="italic">Sodalis glossinidius</tspan></text>
<rect x="937.80" y="453" width="10.21" height="6.6" fill="#e8eeec"/>
<rect x="947.96" y="453" width="10.21" height="6.6" fill="#e7eee9"/>
<rect x="958.12" y="453" width="10.21" height="6.6" fill="#e6ede7"/>
<rect x="968.28" y="453" width="10.21" height="6.6" fill="#e4ede4"/>
<rect x="978.44" y="453" width="10.21" height="6.6" fill="#e3ece1"/>
<rect x="988.60" y="453" width="10.21" height="6.6" fill="#e2ecde"/>
<rect x="998.76" y="453" width="10.21" height="6.6" fill="#d4e5c6"/>
<rect x="1008.92" y="453" width="10.21" height="6.6" fill="#c5dcad"/>
<rect x="1019.08" y="453" width="10.21" height="6.6" fill="#b9d19b"/>
<rect x="1029.24" y="453" width="10.21" height="6.6" fill="#acc68a"/>
<rect x="1039.40" y="453" width="10.21" height="6.6" fill="#9fbb79"/>
<rect x="1049.56" y="453" width="10.21" height="6.6" fill="#92b168"/>
<rect x="1059.72" y="453" width="10.21" height="6.6" fill="#86a656"/>
<rect x="1069.88" y="453" width="10.21" height="6.6" fill="#799b45"/>
<rect x="1080.04" y="453" width="10.21" height="6.6" fill="#6c9034"/>
<rect x="1090.20" y="453" width="10.21" height="6.6" fill="#5f8623"/>
<rect x="1100.36" y="453" width="10.21" height="6.6" fill="#537b11"/>
<rect x="1110.52" y="453" width="10.21" height="6.6" fill="#467000"/>
<rect x="1120.68" y="453" width="10.21" height="6.6" fill="#080808"/>
<text x="940" y="467.3" font-size="8.6" fill="#222">0.00</text>
<text x="1108" y="467.3" font-size="8.6" fill="#222">100.00</text>
<text x="1134.7" y="469.4" font-size="10.4" fill="#222">avg</text>
<text transform="translate(930.6 509.3) scale(1.1 1)" font-size="16.6"><tspan font-style="italic">Baumannia cicadellinicola</tspan></text>
<rect x="937.80" y="518.3" width="10.21" height="6.6" fill="#ececee"/>
<rect x="947.96" y="518.3" width="10.21" height="6.6" fill="#ede9ed"/>
<rect x="958.12" y="518.3" width="10.21" height="6.6" fill="#eee6ec"/>
<rect x="968.28" y="518.3" width="10.21" height="6.6" fill="#eee3ea"/>
<rect x="978.44" y="518.3" width="10.21" height="6.6" fill="#efdfe9"/>
<rect x="988.60" y="518.3" width="10.21" height="6.6" fill="#f0dce8"/>
<rect x="998.76" y="518.3" width="10.21" height="6.6" fill="#f7b5d6"/>
<rect x="1008.92" y="518.3" width="10.21" height="6.6" fill="#f8a5cc"/>
<rect x="1019.08" y="518.3" width="10.21" height="6.6" fill="#f798c2"/>
<rect x="1029.24" y="518.3" width="10.21" height="6.6" fill="#f68bb8"/>
<rect x="1039.40" y="518.3" width="10.21" height="6.6" fill="#f67eaf"/>
<rect x="1049.56" y="518.3" width="10.21" height="6.6" fill="#f571a5"/>
<rect x="1059.72" y="518.3" width="10.21" height="6.6" fill="#f5659b"/>
<rect x="1069.88" y="518.3" width="10.21" height="6.6" fill="#f45892"/>
<rect x="1080.04" y="518.3" width="10.21" height="6.6" fill="#f24980"/>
<rect x="1090.20" y="518.3" width="10.21" height="6.6" fill="#ed3763"/>
<rect x="1100.36" y="518.3" width="10.21" height="6.6" fill="#e92645"/>
<rect x="1110.52" y="518.3" width="10.21" height="6.6" fill="#e41428"/>
<rect x="1120.68" y="518.3" width="10.21" height="6.6" fill="#140808"/>
<text x="940" y="532.6" font-size="8.6" fill="#222">0.00</text>
<text x="1108" y="532.6" font-size="8.6" fill="#222">100.00</text>
<text x="1134.7" y="534.7" font-size="10.4" fill="#222">avg</text>
<text transform="translate(930.6 574.3) scale(1.1 1)" font-size="16.6"><tspan font-style="italic">Buchnera aphidicola Bp</tspan></text>
<rect x="937.80" y="583.3" width="10.21" height="6.6" fill="#eaece8"/>
<rect x="947.96" y="583.3" width="10.21" height="6.6" fill="#eaeae5"/>
<rect x="958.12" y="583.3" width="10.21" height="6.6" fill="#ebe9e2"/>
<rect x="968.28" y="583.3" width="10.21" height="6.6" fill="#ebe7df"/>
<rect x="978.44" y="583.3" width="10.21" height="6.6" fill="#ece6db"/>
<rect x="988.60" y="583.3" width="10.21" height="6.6" fill="#ece4d8"/>
<rect x="998.76" y="583.3" width="10.21" height="6.6" fill="#f0d8c0"/>
<rect x="1008.92" y="583.3" width="10.21" height="6.6" fill="#f4cca7"/>
<rect x="1019.08" y="583.3" width="10.21" height="6.6" fill="#f3c398"/>
<rect x="1029.24" y="583.3" width="10.21" height="6.6" fill="#f3bb8a"/>
<rect x="1039.40" y="583.3" width="10.21" height="6.6" fill="#f2b27b"/>
<rect x="1049.56" y="583.3" width="10.21" height="6.6" fill="#f2a96c"/>
<rect x="1059.72" y="583.3" width="10.21" height="6.6" fill="#f1a05e"/>
<rect x="1069.88" y="583.3" width="10.21" height="6.6" fill="#f0974f"/>
<rect x="1080.04" y="583.3" width="10.21" height="6.6" fill="#f08e40"/>
<rect x="1090.20" y="583.3" width="10.21" height="6.6" fill="#ef8631"/>
<rect x="1100.36" y="583.3" width="10.21" height="6.6" fill="#ef7d23"/>
<rect x="1110.52" y="583.3" width="10.21" height="6.6" fill="#ee7414"/>
<rect x="1120.68" y="583.3" width="10.21" height="6.6" fill="#100a06"/>
<text x="940" y="597.6" font-size="8.6" fill="#222">0.00</text>
<text x="1108" y="597.6" font-size="8.6" fill="#222">100.00</text>
<text x="1134.7" y="599.7" font-size="10.4" fill="#222">avg</text>
<text transform="translate(939.5 639) scale(1.1 1)" font-size="16.6">GC skew</text>
<rect x="937.80" y="648" width="5.20" height="6.6" fill="#140864"/>
<rect x="943.00" y="648" width="15.12" height="6.6" fill="#b040ee"/>
<rect x="958.12" y="648" width="10.21" height="6.6" fill="#bb56f0"/>
<rect x="968.28" y="648" width="10.21" height="6.6" fill="#c56df3"/>
<rect x="978.44" y="648" width="10.21" height="6.6" fill="#d083f5"/>
<rect x="988.60" y="648" width="10.21" height="6.6" fill="#da99f7"/>
<rect x="998.76" y="648" width="10.21" height="6.6" fill="#e5b0fa"/>
<rect x="1008.92" y="648" width="10.21" height="6.6" fill="#efc6fc"/>
<rect x="1019.08" y="648" width="10.21" height="6.6" fill="#ecd7f6"/>
<rect x="1029.24" y="648" width="10.21" height="6.6" fill="#e8e8f0"/>
<rect x="1039.40" y="648" width="10.21" height="6.6" fill="#d7eeec"/>
<rect x="1049.56" y="648" width="10.21" height="6.6" fill="#c6f4e7"/>
<rect x="1059.72" y="648" width="10.21" height="6.6" fill="#b1f3e1"/>
<rect x="1069.88" y="648" width="10.21" height="6.6" fill="#9cf3da"/>
<rect x="1080.04" y="648" width="10.21" height="6.6" fill="#86f2d3"/>
<rect x="1090.20" y="648" width="10.21" height="6.6" fill="#71f1cc"/>
<rect x="1100.36" y="648" width="10.21" height="6.6" fill="#5bf1c5"/>
<rect x="1110.52" y="648" width="15.11" height="6.6" fill="#46f0be"/>
<rect x="1125.58" y="648" width="5.26" height="6.6" fill="#082818"/>
<text x="939.5" y="662.3" font-size="8.6" fill="#222">-0.03</text>
<text x="1116.5" y="662.3" font-size="8.6" fill="#222">0.03</text>
<text x="1134.7" y="664.4" font-size="10.4" fill="#222">avg</text>
<text transform="translate(939.5 715.3) scale(1.1 1)" font-size="16.6">Annotations:</text>
<rect x="981.2" y="737" width="43.2" height="20.2" fill="#2038f0"/>
<rect x="981.2" y="761.2" width="43.2" height="20.2" fill="#f4142e"/>
<text x="1028" y="751.2" font-size="12">CDS +</text>
<text x="1028" y="775.6" font-size="12">CDS –</text>
</g>
<rect x="1140" y="876" width="60" height="60" fill="#000"/>
<g font-family="Liberation Sans, Arial, sans-serif" font-size="29" fill="#fff">
<text transform="translate(1139.6 933.7) scale(0.978 1)">G</text>
<text transform="translate(1158.6 933.7) scale(0.925 1)" font-weight="bold">B</text>
<text x="1178.6" y="933.4" font-size="40" font-weight="bold">.</text>
<text x="1187" y="933.7" font-size="30">c</text>
</g>
</svg>
</body></html>
